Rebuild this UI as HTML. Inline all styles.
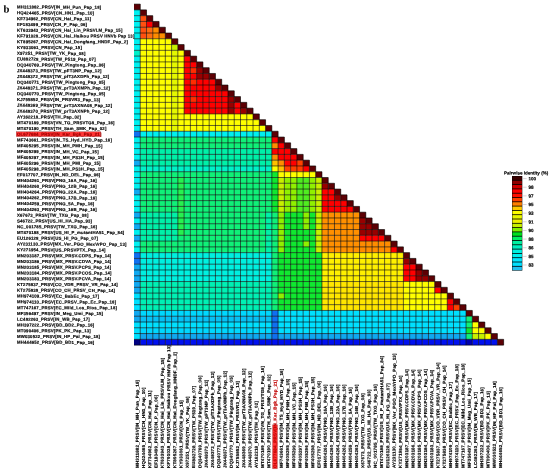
<!DOCTYPE html>
<html><head><meta charset="utf-8"><title>Pairwise identity</title>
<style>html,body{margin:0;padding:0;background:#fff;width:550px;height:471px;overflow:hidden;position:relative}</style>
</head><body>
<svg width="550" height="471" viewBox="0 0 550 471" style="position:absolute;left:0;top:0;filter:blur(0.55px)">
<rect x="134.000" y="4.100" width="6.315" height="5.830" fill="#5c0004"/>
<rect x="134.000" y="9.880" width="6.315" height="5.830" fill="#00f0f0"/>
<rect x="140.265" y="9.880" width="6.315" height="5.830" fill="#5c0004"/>
<rect x="134.000" y="15.660" width="6.315" height="5.830" fill="#00f0f0"/>
<rect x="140.265" y="15.660" width="6.315" height="5.830" fill="#ff5010"/>
<rect x="146.530" y="15.660" width="6.315" height="5.830" fill="#5c0004"/>
<rect x="134.000" y="21.440" width="6.315" height="5.830" fill="#00f0f0"/>
<rect x="140.265" y="21.440" width="6.315" height="5.830" fill="#ff5010"/>
<rect x="146.530" y="21.440" width="6.315" height="5.830" fill="#ff0000"/>
<rect x="152.795" y="21.440" width="6.315" height="5.830" fill="#5c0004"/>
<rect x="134.000" y="27.220" width="6.315" height="5.830" fill="#00f0f0"/>
<rect x="140.265" y="27.220" width="6.315" height="5.830" fill="#ff5010"/>
<rect x="146.530" y="27.220" width="6.315" height="5.830" fill="#ff6c10"/>
<rect x="152.795" y="27.220" width="6.315" height="5.830" fill="#ff8c00"/>
<rect x="159.060" y="27.220" width="6.315" height="5.830" fill="#5c0004"/>
<rect x="134.000" y="33.000" width="6.315" height="5.830" fill="#00f0f0"/>
<rect x="140.265" y="33.000" width="6.315" height="5.830" fill="#ff5010"/>
<rect x="146.530" y="33.000" width="6.315" height="5.830" fill="#ff6c10"/>
<rect x="152.795" y="33.000" width="6.315" height="5.830" fill="#ff8c00"/>
<rect x="159.060" y="33.000" width="6.315" height="5.830" fill="#ff8c00"/>
<rect x="165.325" y="33.000" width="6.315" height="5.830" fill="#5c0004"/>
<rect x="134.000" y="38.780" width="6.315" height="5.830" fill="#00f0f0"/>
<rect x="140.265" y="38.780" width="6.315" height="5.830" fill="#ffff00"/>
<rect x="146.530" y="38.780" width="6.315" height="5.830" fill="#ffff00"/>
<rect x="152.795" y="38.780" width="6.315" height="5.830" fill="#ffff00"/>
<rect x="159.060" y="38.780" width="6.315" height="5.830" fill="#ffff00"/>
<rect x="165.325" y="38.780" width="6.315" height="5.830" fill="#ffff00"/>
<rect x="171.590" y="38.780" width="6.315" height="5.830" fill="#5c0004"/>
<rect x="134.000" y="44.560" width="6.315" height="5.830" fill="#00f0f0"/>
<rect x="140.265" y="44.560" width="6.315" height="5.830" fill="#ffff00"/>
<rect x="146.530" y="44.560" width="6.315" height="5.830" fill="#ffff00"/>
<rect x="152.795" y="44.560" width="6.315" height="5.830" fill="#ffff00"/>
<rect x="159.060" y="44.560" width="6.315" height="5.830" fill="#ffff00"/>
<rect x="165.325" y="44.560" width="6.315" height="5.830" fill="#ffff00"/>
<rect x="171.590" y="44.560" width="6.315" height="5.830" fill="#c8f000"/>
<rect x="177.855" y="44.560" width="6.315" height="5.830" fill="#5c0004"/>
<rect x="134.000" y="50.340" width="6.315" height="5.830" fill="#00f0c8"/>
<rect x="140.265" y="50.340" width="6.315" height="5.830" fill="#ffff00"/>
<rect x="146.530" y="50.340" width="6.315" height="5.830" fill="#ffff00"/>
<rect x="152.795" y="50.340" width="6.315" height="5.830" fill="#ffff00"/>
<rect x="159.060" y="50.340" width="6.315" height="5.830" fill="#ffff00"/>
<rect x="165.325" y="50.340" width="6.315" height="5.830" fill="#ffff00"/>
<rect x="171.590" y="50.340" width="6.315" height="5.830" fill="#e4f800"/>
<rect x="177.855" y="50.340" width="6.315" height="5.830" fill="#ffff00"/>
<rect x="184.120" y="50.340" width="6.315" height="5.830" fill="#5c0004"/>
<rect x="134.000" y="56.120" width="6.315" height="5.830" fill="#00f0f0"/>
<rect x="140.265" y="56.120" width="6.315" height="5.830" fill="#ffff00"/>
<rect x="146.530" y="56.120" width="6.315" height="5.830" fill="#ffff00"/>
<rect x="152.795" y="56.120" width="6.315" height="5.830" fill="#ffff00"/>
<rect x="159.060" y="56.120" width="6.315" height="5.830" fill="#ffff00"/>
<rect x="165.325" y="56.120" width="6.315" height="5.830" fill="#ffff00"/>
<rect x="171.590" y="56.120" width="6.315" height="5.830" fill="#e4f800"/>
<rect x="177.855" y="56.120" width="6.315" height="5.830" fill="#ffff00"/>
<rect x="184.120" y="56.120" width="6.315" height="5.830" fill="#ff0000"/>
<rect x="190.385" y="56.120" width="6.315" height="5.830" fill="#5c0004"/>
<rect x="134.000" y="61.900" width="6.315" height="5.830" fill="#00f0f0"/>
<rect x="140.265" y="61.900" width="6.315" height="5.830" fill="#ffff00"/>
<rect x="146.530" y="61.900" width="6.315" height="5.830" fill="#ffff00"/>
<rect x="152.795" y="61.900" width="6.315" height="5.830" fill="#ffff00"/>
<rect x="159.060" y="61.900" width="6.315" height="5.830" fill="#ffff00"/>
<rect x="165.325" y="61.900" width="6.315" height="5.830" fill="#ffff00"/>
<rect x="171.590" y="61.900" width="6.315" height="5.830" fill="#e4f800"/>
<rect x="177.855" y="61.900" width="6.315" height="5.830" fill="#ffff00"/>
<rect x="184.120" y="61.900" width="6.315" height="5.830" fill="#ff0000"/>
<rect x="190.385" y="61.900" width="6.315" height="5.830" fill="#ff0000"/>
<rect x="196.650" y="61.900" width="6.315" height="5.830" fill="#5c0004"/>
<rect x="134.000" y="67.680" width="6.315" height="5.830" fill="#00f0f0"/>
<rect x="140.265" y="67.680" width="6.315" height="5.830" fill="#ffff00"/>
<rect x="146.530" y="67.680" width="6.315" height="5.830" fill="#ffff00"/>
<rect x="152.795" y="67.680" width="6.315" height="5.830" fill="#ffff00"/>
<rect x="159.060" y="67.680" width="6.315" height="5.830" fill="#ffff00"/>
<rect x="165.325" y="67.680" width="6.315" height="5.830" fill="#ffff00"/>
<rect x="171.590" y="67.680" width="6.315" height="5.830" fill="#e4f800"/>
<rect x="177.855" y="67.680" width="6.315" height="5.830" fill="#ffff00"/>
<rect x="184.120" y="67.680" width="6.315" height="5.830" fill="#ff0000"/>
<rect x="190.385" y="67.680" width="6.315" height="5.830" fill="#ff2c00"/>
<rect x="196.650" y="67.680" width="6.315" height="5.830" fill="#980000"/>
<rect x="202.915" y="67.680" width="6.315" height="5.830" fill="#5c0004"/>
<rect x="134.000" y="73.460" width="6.315" height="5.830" fill="#00f0f0"/>
<rect x="140.265" y="73.460" width="6.315" height="5.830" fill="#ffff00"/>
<rect x="146.530" y="73.460" width="6.315" height="5.830" fill="#ffff00"/>
<rect x="152.795" y="73.460" width="6.315" height="5.830" fill="#ffff00"/>
<rect x="159.060" y="73.460" width="6.315" height="5.830" fill="#ffff00"/>
<rect x="165.325" y="73.460" width="6.315" height="5.830" fill="#ffff00"/>
<rect x="171.590" y="73.460" width="6.315" height="5.830" fill="#e4f800"/>
<rect x="177.855" y="73.460" width="6.315" height="5.830" fill="#ffff00"/>
<rect x="184.120" y="73.460" width="6.315" height="5.830" fill="#ff0000"/>
<rect x="190.385" y="73.460" width="6.315" height="5.830" fill="#ff0000"/>
<rect x="196.650" y="73.460" width="6.315" height="5.830" fill="#980000"/>
<rect x="202.915" y="73.460" width="6.315" height="5.830" fill="#980000"/>
<rect x="209.180" y="73.460" width="6.315" height="5.830" fill="#5c0004"/>
<rect x="134.000" y="79.240" width="6.315" height="5.830" fill="#00f0f0"/>
<rect x="140.265" y="79.240" width="6.315" height="5.830" fill="#ffff00"/>
<rect x="146.530" y="79.240" width="6.315" height="5.830" fill="#ffff00"/>
<rect x="152.795" y="79.240" width="6.315" height="5.830" fill="#ffff00"/>
<rect x="159.060" y="79.240" width="6.315" height="5.830" fill="#ffff00"/>
<rect x="165.325" y="79.240" width="6.315" height="5.830" fill="#ffff00"/>
<rect x="171.590" y="79.240" width="6.315" height="5.830" fill="#e4f800"/>
<rect x="177.855" y="79.240" width="6.315" height="5.830" fill="#ffff00"/>
<rect x="184.120" y="79.240" width="6.315" height="5.830" fill="#ff0000"/>
<rect x="190.385" y="79.240" width="6.315" height="5.830" fill="#ff2c00"/>
<rect x="196.650" y="79.240" width="6.315" height="5.830" fill="#ff0000"/>
<rect x="202.915" y="79.240" width="6.315" height="5.830" fill="#ff0000"/>
<rect x="209.180" y="79.240" width="6.315" height="5.830" fill="#ff0000"/>
<rect x="215.445" y="79.240" width="6.315" height="5.830" fill="#5c0004"/>
<rect x="134.000" y="85.020" width="6.315" height="5.830" fill="#00f0f0"/>
<rect x="140.265" y="85.020" width="6.315" height="5.830" fill="#ffff00"/>
<rect x="146.530" y="85.020" width="6.315" height="5.830" fill="#ffff00"/>
<rect x="152.795" y="85.020" width="6.315" height="5.830" fill="#ffff00"/>
<rect x="159.060" y="85.020" width="6.315" height="5.830" fill="#ffff00"/>
<rect x="165.325" y="85.020" width="6.315" height="5.830" fill="#ffff00"/>
<rect x="171.590" y="85.020" width="6.315" height="5.830" fill="#e4f800"/>
<rect x="177.855" y="85.020" width="6.315" height="5.830" fill="#ffff00"/>
<rect x="184.120" y="85.020" width="6.315" height="5.830" fill="#ff0000"/>
<rect x="190.385" y="85.020" width="6.315" height="5.830" fill="#ff0000"/>
<rect x="196.650" y="85.020" width="6.315" height="5.830" fill="#ff0000"/>
<rect x="202.915" y="85.020" width="6.315" height="5.830" fill="#ff0000"/>
<rect x="209.180" y="85.020" width="6.315" height="5.830" fill="#ff0000"/>
<rect x="215.445" y="85.020" width="6.315" height="5.830" fill="#980000"/>
<rect x="221.710" y="85.020" width="6.315" height="5.830" fill="#5c0004"/>
<rect x="134.000" y="90.800" width="6.315" height="5.830" fill="#00f0f0"/>
<rect x="140.265" y="90.800" width="6.315" height="5.830" fill="#ffff00"/>
<rect x="146.530" y="90.800" width="6.315" height="5.830" fill="#ffff00"/>
<rect x="152.795" y="90.800" width="6.315" height="5.830" fill="#ffff00"/>
<rect x="159.060" y="90.800" width="6.315" height="5.830" fill="#ffff00"/>
<rect x="165.325" y="90.800" width="6.315" height="5.830" fill="#ffff00"/>
<rect x="171.590" y="90.800" width="6.315" height="5.830" fill="#e4f800"/>
<rect x="177.855" y="90.800" width="6.315" height="5.830" fill="#ffff00"/>
<rect x="184.120" y="90.800" width="6.315" height="5.830" fill="#ff0000"/>
<rect x="190.385" y="90.800" width="6.315" height="5.830" fill="#ff0000"/>
<rect x="196.650" y="90.800" width="6.315" height="5.830" fill="#ff0000"/>
<rect x="202.915" y="90.800" width="6.315" height="5.830" fill="#ff0000"/>
<rect x="209.180" y="90.800" width="6.315" height="5.830" fill="#ff0000"/>
<rect x="215.445" y="90.800" width="6.315" height="5.830" fill="#ff0000"/>
<rect x="221.710" y="90.800" width="6.315" height="5.830" fill="#ff0000"/>
<rect x="227.975" y="90.800" width="6.315" height="5.830" fill="#5c0004"/>
<rect x="134.000" y="96.580" width="6.315" height="5.830" fill="#00f0f0"/>
<rect x="140.265" y="96.580" width="6.315" height="5.830" fill="#ffff00"/>
<rect x="146.530" y="96.580" width="6.315" height="5.830" fill="#ffff00"/>
<rect x="152.795" y="96.580" width="6.315" height="5.830" fill="#ffff00"/>
<rect x="159.060" y="96.580" width="6.315" height="5.830" fill="#ffff00"/>
<rect x="165.325" y="96.580" width="6.315" height="5.830" fill="#ffff00"/>
<rect x="171.590" y="96.580" width="6.315" height="5.830" fill="#e4f800"/>
<rect x="177.855" y="96.580" width="6.315" height="5.830" fill="#ffff00"/>
<rect x="184.120" y="96.580" width="6.315" height="5.830" fill="#ff0000"/>
<rect x="190.385" y="96.580" width="6.315" height="5.830" fill="#ff2c00"/>
<rect x="196.650" y="96.580" width="6.315" height="5.830" fill="#ff0000"/>
<rect x="202.915" y="96.580" width="6.315" height="5.830" fill="#ff0000"/>
<rect x="209.180" y="96.580" width="6.315" height="5.830" fill="#ff0000"/>
<rect x="215.445" y="96.580" width="6.315" height="5.830" fill="#ff0000"/>
<rect x="221.710" y="96.580" width="6.315" height="5.830" fill="#ff0000"/>
<rect x="227.975" y="96.580" width="6.315" height="5.830" fill="#980000"/>
<rect x="234.240" y="96.580" width="6.315" height="5.830" fill="#5c0004"/>
<rect x="134.000" y="102.360" width="6.315" height="5.830" fill="#00f0f0"/>
<rect x="140.265" y="102.360" width="6.315" height="5.830" fill="#ffff00"/>
<rect x="146.530" y="102.360" width="6.315" height="5.830" fill="#ffff00"/>
<rect x="152.795" y="102.360" width="6.315" height="5.830" fill="#ffff00"/>
<rect x="159.060" y="102.360" width="6.315" height="5.830" fill="#ffff00"/>
<rect x="165.325" y="102.360" width="6.315" height="5.830" fill="#ffff00"/>
<rect x="171.590" y="102.360" width="6.315" height="5.830" fill="#e4f800"/>
<rect x="177.855" y="102.360" width="6.315" height="5.830" fill="#ffff00"/>
<rect x="184.120" y="102.360" width="6.315" height="5.830" fill="#ff0000"/>
<rect x="190.385" y="102.360" width="6.315" height="5.830" fill="#ff0000"/>
<rect x="196.650" y="102.360" width="6.315" height="5.830" fill="#ff0000"/>
<rect x="202.915" y="102.360" width="6.315" height="5.830" fill="#ff0000"/>
<rect x="209.180" y="102.360" width="6.315" height="5.830" fill="#ff0000"/>
<rect x="215.445" y="102.360" width="6.315" height="5.830" fill="#ff0000"/>
<rect x="221.710" y="102.360" width="6.315" height="5.830" fill="#ff0000"/>
<rect x="227.975" y="102.360" width="6.315" height="5.830" fill="#980000"/>
<rect x="234.240" y="102.360" width="6.315" height="5.830" fill="#ff0000"/>
<rect x="240.505" y="102.360" width="6.315" height="5.830" fill="#5c0004"/>
<rect x="134.000" y="108.140" width="6.315" height="5.830" fill="#00f0f0"/>
<rect x="140.265" y="108.140" width="6.315" height="5.830" fill="#ffff00"/>
<rect x="146.530" y="108.140" width="6.315" height="5.830" fill="#ffff00"/>
<rect x="152.795" y="108.140" width="6.315" height="5.830" fill="#ffff00"/>
<rect x="159.060" y="108.140" width="6.315" height="5.830" fill="#ffff00"/>
<rect x="165.325" y="108.140" width="6.315" height="5.830" fill="#ffff00"/>
<rect x="171.590" y="108.140" width="6.315" height="5.830" fill="#e4f800"/>
<rect x="177.855" y="108.140" width="6.315" height="5.830" fill="#ffff00"/>
<rect x="184.120" y="108.140" width="6.315" height="5.830" fill="#ff0000"/>
<rect x="190.385" y="108.140" width="6.315" height="5.830" fill="#ff0000"/>
<rect x="196.650" y="108.140" width="6.315" height="5.830" fill="#ff0000"/>
<rect x="202.915" y="108.140" width="6.315" height="5.830" fill="#ff0000"/>
<rect x="209.180" y="108.140" width="6.315" height="5.830" fill="#ff0000"/>
<rect x="215.445" y="108.140" width="6.315" height="5.830" fill="#ff0000"/>
<rect x="221.710" y="108.140" width="6.315" height="5.830" fill="#ff0000"/>
<rect x="227.975" y="108.140" width="6.315" height="5.830" fill="#980000"/>
<rect x="234.240" y="108.140" width="6.315" height="5.830" fill="#ff0000"/>
<rect x="240.505" y="108.140" width="6.315" height="5.830" fill="#980000"/>
<rect x="246.770" y="108.140" width="6.315" height="5.830" fill="#5c0004"/>
<rect x="134.000" y="113.920" width="6.315" height="5.830" fill="#00f0f0"/>
<rect x="140.265" y="113.920" width="6.315" height="5.830" fill="#ffff00"/>
<rect x="146.530" y="113.920" width="6.315" height="5.830" fill="#ffff00"/>
<rect x="152.795" y="113.920" width="6.315" height="5.830" fill="#ffff00"/>
<rect x="159.060" y="113.920" width="6.315" height="5.830" fill="#ffff00"/>
<rect x="165.325" y="113.920" width="6.315" height="5.830" fill="#ffff00"/>
<rect x="171.590" y="113.920" width="6.315" height="5.830" fill="#e4f800"/>
<rect x="177.855" y="113.920" width="6.315" height="5.830" fill="#ffff00"/>
<rect x="184.120" y="113.920" width="6.315" height="5.830" fill="#ffff00"/>
<rect x="190.385" y="113.920" width="6.315" height="5.830" fill="#ffff00"/>
<rect x="196.650" y="113.920" width="6.315" height="5.830" fill="#ffff00"/>
<rect x="202.915" y="113.920" width="6.315" height="5.830" fill="#ffff00"/>
<rect x="209.180" y="113.920" width="6.315" height="5.830" fill="#ffff00"/>
<rect x="215.445" y="113.920" width="6.315" height="5.830" fill="#ffff00"/>
<rect x="221.710" y="113.920" width="6.315" height="5.830" fill="#ffff00"/>
<rect x="227.975" y="113.920" width="6.315" height="5.830" fill="#ffff00"/>
<rect x="234.240" y="113.920" width="6.315" height="5.830" fill="#ffff00"/>
<rect x="240.505" y="113.920" width="6.315" height="5.830" fill="#ffff00"/>
<rect x="246.770" y="113.920" width="6.315" height="5.830" fill="#ffff00"/>
<rect x="253.035" y="113.920" width="6.315" height="5.830" fill="#5c0004"/>
<rect x="134.000" y="119.700" width="6.315" height="5.830" fill="#00f0f0"/>
<rect x="140.265" y="119.700" width="6.315" height="5.830" fill="#ffff00"/>
<rect x="146.530" y="119.700" width="6.315" height="5.830" fill="#ffff00"/>
<rect x="152.795" y="119.700" width="6.315" height="5.830" fill="#ffff00"/>
<rect x="159.060" y="119.700" width="6.315" height="5.830" fill="#ffff00"/>
<rect x="165.325" y="119.700" width="6.315" height="5.830" fill="#ffff00"/>
<rect x="171.590" y="119.700" width="6.315" height="5.830" fill="#e4f800"/>
<rect x="177.855" y="119.700" width="6.315" height="5.830" fill="#ffff00"/>
<rect x="184.120" y="119.700" width="6.315" height="5.830" fill="#ffff00"/>
<rect x="190.385" y="119.700" width="6.315" height="5.830" fill="#ffff00"/>
<rect x="196.650" y="119.700" width="6.315" height="5.830" fill="#ffff00"/>
<rect x="202.915" y="119.700" width="6.315" height="5.830" fill="#ffff00"/>
<rect x="209.180" y="119.700" width="6.315" height="5.830" fill="#ffff00"/>
<rect x="215.445" y="119.700" width="6.315" height="5.830" fill="#ffff00"/>
<rect x="221.710" y="119.700" width="6.315" height="5.830" fill="#ffff00"/>
<rect x="227.975" y="119.700" width="6.315" height="5.830" fill="#ffff00"/>
<rect x="234.240" y="119.700" width="6.315" height="5.830" fill="#ffff00"/>
<rect x="240.505" y="119.700" width="6.315" height="5.830" fill="#ffff00"/>
<rect x="246.770" y="119.700" width="6.315" height="5.830" fill="#ffff00"/>
<rect x="253.035" y="119.700" width="6.315" height="5.830" fill="#ffff00"/>
<rect x="259.300" y="119.700" width="6.315" height="5.830" fill="#5c0004"/>
<rect x="134.000" y="125.480" width="6.315" height="5.830" fill="#00f0f0"/>
<rect x="140.265" y="125.480" width="6.315" height="5.830" fill="#ffff00"/>
<rect x="146.530" y="125.480" width="6.315" height="5.830" fill="#ffff00"/>
<rect x="152.795" y="125.480" width="6.315" height="5.830" fill="#ffff00"/>
<rect x="159.060" y="125.480" width="6.315" height="5.830" fill="#ffff00"/>
<rect x="165.325" y="125.480" width="6.315" height="5.830" fill="#ffff00"/>
<rect x="171.590" y="125.480" width="6.315" height="5.830" fill="#e4f800"/>
<rect x="177.855" y="125.480" width="6.315" height="5.830" fill="#ffff00"/>
<rect x="184.120" y="125.480" width="6.315" height="5.830" fill="#ffff00"/>
<rect x="190.385" y="125.480" width="6.315" height="5.830" fill="#ffff00"/>
<rect x="196.650" y="125.480" width="6.315" height="5.830" fill="#ffff00"/>
<rect x="202.915" y="125.480" width="6.315" height="5.830" fill="#ffff00"/>
<rect x="209.180" y="125.480" width="6.315" height="5.830" fill="#ffff00"/>
<rect x="215.445" y="125.480" width="6.315" height="5.830" fill="#ffff00"/>
<rect x="221.710" y="125.480" width="6.315" height="5.830" fill="#ffff00"/>
<rect x="227.975" y="125.480" width="6.315" height="5.830" fill="#ffff00"/>
<rect x="234.240" y="125.480" width="6.315" height="5.830" fill="#ffff00"/>
<rect x="240.505" y="125.480" width="6.315" height="5.830" fill="#ffff00"/>
<rect x="246.770" y="125.480" width="6.315" height="5.830" fill="#ffff00"/>
<rect x="253.035" y="125.480" width="6.315" height="5.830" fill="#ffff00"/>
<rect x="259.300" y="125.480" width="6.315" height="5.830" fill="#ffff00"/>
<rect x="265.565" y="125.480" width="6.315" height="5.830" fill="#5c0004"/>
<rect x="134.000" y="131.260" width="6.315" height="5.830" fill="#1070f0"/>
<rect x="140.265" y="131.260" width="6.315" height="5.830" fill="#00f0f0"/>
<rect x="146.530" y="131.260" width="6.315" height="5.830" fill="#00f0f0"/>
<rect x="152.795" y="131.260" width="6.315" height="5.830" fill="#00f0f0"/>
<rect x="159.060" y="131.260" width="6.315" height="5.830" fill="#00f0f0"/>
<rect x="165.325" y="131.260" width="6.315" height="5.830" fill="#00f0f0"/>
<rect x="171.590" y="131.260" width="6.315" height="5.830" fill="#00f0f0"/>
<rect x="177.855" y="131.260" width="6.315" height="5.830" fill="#00f0f0"/>
<rect x="184.120" y="131.260" width="6.315" height="5.830" fill="#00f0f0"/>
<rect x="190.385" y="131.260" width="6.315" height="5.830" fill="#00f0f0"/>
<rect x="196.650" y="131.260" width="6.315" height="5.830" fill="#00f0f0"/>
<rect x="202.915" y="131.260" width="6.315" height="5.830" fill="#00f0f0"/>
<rect x="209.180" y="131.260" width="6.315" height="5.830" fill="#00f0f0"/>
<rect x="215.445" y="131.260" width="6.315" height="5.830" fill="#00f0f0"/>
<rect x="221.710" y="131.260" width="6.315" height="5.830" fill="#00f0f0"/>
<rect x="227.975" y="131.260" width="6.315" height="5.830" fill="#00f0f0"/>
<rect x="234.240" y="131.260" width="6.315" height="5.830" fill="#00f0f0"/>
<rect x="240.505" y="131.260" width="6.315" height="5.830" fill="#00f0f0"/>
<rect x="246.770" y="131.260" width="6.315" height="5.830" fill="#00f0f0"/>
<rect x="253.035" y="131.260" width="6.315" height="5.830" fill="#00f0f0"/>
<rect x="259.300" y="131.260" width="6.315" height="5.830" fill="#00f0f0"/>
<rect x="265.565" y="131.260" width="6.315" height="5.830" fill="#00f0f0"/>
<rect x="271.830" y="131.260" width="6.315" height="5.830" fill="#5c0004"/>
<rect x="134.000" y="137.040" width="6.315" height="5.830" fill="#00f0f0"/>
<rect x="140.265" y="137.040" width="6.315" height="5.830" fill="#10f078"/>
<rect x="146.530" y="137.040" width="6.315" height="5.830" fill="#10f078"/>
<rect x="152.795" y="137.040" width="6.315" height="5.830" fill="#10f078"/>
<rect x="159.060" y="137.040" width="6.315" height="5.830" fill="#10f078"/>
<rect x="165.325" y="137.040" width="6.315" height="5.830" fill="#10f078"/>
<rect x="171.590" y="137.040" width="6.315" height="5.830" fill="#10f078"/>
<rect x="177.855" y="137.040" width="6.315" height="5.830" fill="#10f078"/>
<rect x="184.120" y="137.040" width="6.315" height="5.830" fill="#10f078"/>
<rect x="190.385" y="137.040" width="6.315" height="5.830" fill="#10f078"/>
<rect x="196.650" y="137.040" width="6.315" height="5.830" fill="#10f078"/>
<rect x="202.915" y="137.040" width="6.315" height="5.830" fill="#10f078"/>
<rect x="209.180" y="137.040" width="6.315" height="5.830" fill="#10f078"/>
<rect x="215.445" y="137.040" width="6.315" height="5.830" fill="#10f078"/>
<rect x="221.710" y="137.040" width="6.315" height="5.830" fill="#10f078"/>
<rect x="227.975" y="137.040" width="6.315" height="5.830" fill="#10f078"/>
<rect x="234.240" y="137.040" width="6.315" height="5.830" fill="#10f078"/>
<rect x="240.505" y="137.040" width="6.315" height="5.830" fill="#10f078"/>
<rect x="246.770" y="137.040" width="6.315" height="5.830" fill="#10f078"/>
<rect x="253.035" y="137.040" width="6.315" height="5.830" fill="#10f078"/>
<rect x="259.300" y="137.040" width="6.315" height="5.830" fill="#10f078"/>
<rect x="265.565" y="137.040" width="6.315" height="5.830" fill="#10f078"/>
<rect x="271.830" y="137.040" width="6.315" height="5.830" fill="#ff0000"/>
<rect x="278.095" y="137.040" width="6.315" height="5.830" fill="#5c0004"/>
<rect x="134.000" y="142.820" width="6.315" height="5.830" fill="#00f0f0"/>
<rect x="140.265" y="142.820" width="6.315" height="5.830" fill="#10f078"/>
<rect x="146.530" y="142.820" width="6.315" height="5.830" fill="#10f078"/>
<rect x="152.795" y="142.820" width="6.315" height="5.830" fill="#10f078"/>
<rect x="159.060" y="142.820" width="6.315" height="5.830" fill="#10f078"/>
<rect x="165.325" y="142.820" width="6.315" height="5.830" fill="#10f078"/>
<rect x="171.590" y="142.820" width="6.315" height="5.830" fill="#10f078"/>
<rect x="177.855" y="142.820" width="6.315" height="5.830" fill="#10f078"/>
<rect x="184.120" y="142.820" width="6.315" height="5.830" fill="#10f078"/>
<rect x="190.385" y="142.820" width="6.315" height="5.830" fill="#10f078"/>
<rect x="196.650" y="142.820" width="6.315" height="5.830" fill="#10f078"/>
<rect x="202.915" y="142.820" width="6.315" height="5.830" fill="#10f078"/>
<rect x="209.180" y="142.820" width="6.315" height="5.830" fill="#10f078"/>
<rect x="215.445" y="142.820" width="6.315" height="5.830" fill="#10f078"/>
<rect x="221.710" y="142.820" width="6.315" height="5.830" fill="#10f078"/>
<rect x="227.975" y="142.820" width="6.315" height="5.830" fill="#10f078"/>
<rect x="234.240" y="142.820" width="6.315" height="5.830" fill="#10f078"/>
<rect x="240.505" y="142.820" width="6.315" height="5.830" fill="#10f078"/>
<rect x="246.770" y="142.820" width="6.315" height="5.830" fill="#10f078"/>
<rect x="253.035" y="142.820" width="6.315" height="5.830" fill="#10f078"/>
<rect x="259.300" y="142.820" width="6.315" height="5.830" fill="#10f078"/>
<rect x="265.565" y="142.820" width="6.315" height="5.830" fill="#10f078"/>
<rect x="271.830" y="142.820" width="6.315" height="5.830" fill="#ff8c00"/>
<rect x="278.095" y="142.820" width="6.315" height="5.830" fill="#ff0000"/>
<rect x="284.360" y="142.820" width="6.315" height="5.830" fill="#5c0004"/>
<rect x="134.000" y="148.600" width="6.315" height="5.830" fill="#00f0f0"/>
<rect x="140.265" y="148.600" width="6.315" height="5.830" fill="#00f0a8"/>
<rect x="146.530" y="148.600" width="6.315" height="5.830" fill="#00f0a8"/>
<rect x="152.795" y="148.600" width="6.315" height="5.830" fill="#00f0a8"/>
<rect x="159.060" y="148.600" width="6.315" height="5.830" fill="#00f0a8"/>
<rect x="165.325" y="148.600" width="6.315" height="5.830" fill="#00f0a8"/>
<rect x="171.590" y="148.600" width="6.315" height="5.830" fill="#00f0a8"/>
<rect x="177.855" y="148.600" width="6.315" height="5.830" fill="#00f0a8"/>
<rect x="184.120" y="148.600" width="6.315" height="5.830" fill="#00f0a8"/>
<rect x="190.385" y="148.600" width="6.315" height="5.830" fill="#00f0a8"/>
<rect x="196.650" y="148.600" width="6.315" height="5.830" fill="#00f0a8"/>
<rect x="202.915" y="148.600" width="6.315" height="5.830" fill="#00f0a8"/>
<rect x="209.180" y="148.600" width="6.315" height="5.830" fill="#00f0a8"/>
<rect x="215.445" y="148.600" width="6.315" height="5.830" fill="#00f0a8"/>
<rect x="221.710" y="148.600" width="6.315" height="5.830" fill="#00f0a8"/>
<rect x="227.975" y="148.600" width="6.315" height="5.830" fill="#00f0a8"/>
<rect x="234.240" y="148.600" width="6.315" height="5.830" fill="#00f0a8"/>
<rect x="240.505" y="148.600" width="6.315" height="5.830" fill="#00f0a8"/>
<rect x="246.770" y="148.600" width="6.315" height="5.830" fill="#00f0a8"/>
<rect x="253.035" y="148.600" width="6.315" height="5.830" fill="#00f0a8"/>
<rect x="259.300" y="148.600" width="6.315" height="5.830" fill="#00f0a8"/>
<rect x="265.565" y="148.600" width="6.315" height="5.830" fill="#00f0a8"/>
<rect x="271.830" y="148.600" width="6.315" height="5.830" fill="#ff0000"/>
<rect x="278.095" y="148.600" width="6.315" height="5.830" fill="#ff0000"/>
<rect x="284.360" y="148.600" width="6.315" height="5.830" fill="#ff0000"/>
<rect x="290.625" y="148.600" width="6.315" height="5.830" fill="#5c0004"/>
<rect x="134.000" y="154.380" width="6.315" height="5.830" fill="#00f0f0"/>
<rect x="140.265" y="154.380" width="6.315" height="5.830" fill="#00f0a8"/>
<rect x="146.530" y="154.380" width="6.315" height="5.830" fill="#00f0a8"/>
<rect x="152.795" y="154.380" width="6.315" height="5.830" fill="#00f0a8"/>
<rect x="159.060" y="154.380" width="6.315" height="5.830" fill="#00f0a8"/>
<rect x="165.325" y="154.380" width="6.315" height="5.830" fill="#00f0a8"/>
<rect x="171.590" y="154.380" width="6.315" height="5.830" fill="#00f0a8"/>
<rect x="177.855" y="154.380" width="6.315" height="5.830" fill="#00f0a8"/>
<rect x="184.120" y="154.380" width="6.315" height="5.830" fill="#00f0a8"/>
<rect x="190.385" y="154.380" width="6.315" height="5.830" fill="#00f0a8"/>
<rect x="196.650" y="154.380" width="6.315" height="5.830" fill="#00f0a8"/>
<rect x="202.915" y="154.380" width="6.315" height="5.830" fill="#00f0a8"/>
<rect x="209.180" y="154.380" width="6.315" height="5.830" fill="#00f0a8"/>
<rect x="215.445" y="154.380" width="6.315" height="5.830" fill="#00f0a8"/>
<rect x="221.710" y="154.380" width="6.315" height="5.830" fill="#00f0a8"/>
<rect x="227.975" y="154.380" width="6.315" height="5.830" fill="#00f0a8"/>
<rect x="234.240" y="154.380" width="6.315" height="5.830" fill="#00f0a8"/>
<rect x="240.505" y="154.380" width="6.315" height="5.830" fill="#00f0a8"/>
<rect x="246.770" y="154.380" width="6.315" height="5.830" fill="#00f0a8"/>
<rect x="253.035" y="154.380" width="6.315" height="5.830" fill="#00f0a8"/>
<rect x="259.300" y="154.380" width="6.315" height="5.830" fill="#00f0a8"/>
<rect x="265.565" y="154.380" width="6.315" height="5.830" fill="#00f0a8"/>
<rect x="271.830" y="154.380" width="6.315" height="5.830" fill="#ff8c00"/>
<rect x="278.095" y="154.380" width="6.315" height="5.830" fill="#ff0000"/>
<rect x="284.360" y="154.380" width="6.315" height="5.830" fill="#ff0000"/>
<rect x="290.625" y="154.380" width="6.315" height="5.830" fill="#ff0000"/>
<rect x="296.890" y="154.380" width="6.315" height="5.830" fill="#5c0004"/>
<rect x="134.000" y="160.160" width="6.315" height="5.830" fill="#10a8f0"/>
<rect x="140.265" y="160.160" width="6.315" height="5.830" fill="#00f0a8"/>
<rect x="146.530" y="160.160" width="6.315" height="5.830" fill="#00f0a8"/>
<rect x="152.795" y="160.160" width="6.315" height="5.830" fill="#00f0a8"/>
<rect x="159.060" y="160.160" width="6.315" height="5.830" fill="#00f0a8"/>
<rect x="165.325" y="160.160" width="6.315" height="5.830" fill="#00f0a8"/>
<rect x="171.590" y="160.160" width="6.315" height="5.830" fill="#00f0a8"/>
<rect x="177.855" y="160.160" width="6.315" height="5.830" fill="#00f0a8"/>
<rect x="184.120" y="160.160" width="6.315" height="5.830" fill="#00f0a8"/>
<rect x="190.385" y="160.160" width="6.315" height="5.830" fill="#00f0a8"/>
<rect x="196.650" y="160.160" width="6.315" height="5.830" fill="#00f0a8"/>
<rect x="202.915" y="160.160" width="6.315" height="5.830" fill="#00f0a8"/>
<rect x="209.180" y="160.160" width="6.315" height="5.830" fill="#00f0a8"/>
<rect x="215.445" y="160.160" width="6.315" height="5.830" fill="#00f0a8"/>
<rect x="221.710" y="160.160" width="6.315" height="5.830" fill="#00f0a8"/>
<rect x="227.975" y="160.160" width="6.315" height="5.830" fill="#00f0a8"/>
<rect x="234.240" y="160.160" width="6.315" height="5.830" fill="#00f0a8"/>
<rect x="240.505" y="160.160" width="6.315" height="5.830" fill="#00f0a8"/>
<rect x="246.770" y="160.160" width="6.315" height="5.830" fill="#00f0a8"/>
<rect x="253.035" y="160.160" width="6.315" height="5.830" fill="#00f0a8"/>
<rect x="259.300" y="160.160" width="6.315" height="5.830" fill="#00f0a8"/>
<rect x="265.565" y="160.160" width="6.315" height="5.830" fill="#00f0a8"/>
<rect x="271.830" y="160.160" width="6.315" height="5.830" fill="#ffc000"/>
<rect x="278.095" y="160.160" width="6.315" height="5.830" fill="#ff8c00"/>
<rect x="284.360" y="160.160" width="6.315" height="5.830" fill="#ff0000"/>
<rect x="290.625" y="160.160" width="6.315" height="5.830" fill="#ff0000"/>
<rect x="296.890" y="160.160" width="6.315" height="5.830" fill="#ff4000"/>
<rect x="303.155" y="160.160" width="6.315" height="5.830" fill="#5c0004"/>
<rect x="134.000" y="165.940" width="6.315" height="5.830" fill="#00f0f0"/>
<rect x="140.265" y="165.940" width="6.315" height="5.830" fill="#00f0c8"/>
<rect x="146.530" y="165.940" width="6.315" height="5.830" fill="#00f0c8"/>
<rect x="152.795" y="165.940" width="6.315" height="5.830" fill="#00f0c8"/>
<rect x="159.060" y="165.940" width="6.315" height="5.830" fill="#00f0c8"/>
<rect x="165.325" y="165.940" width="6.315" height="5.830" fill="#00f0c8"/>
<rect x="171.590" y="165.940" width="6.315" height="5.830" fill="#00f0c8"/>
<rect x="177.855" y="165.940" width="6.315" height="5.830" fill="#00f0c8"/>
<rect x="184.120" y="165.940" width="6.315" height="5.830" fill="#00f0c8"/>
<rect x="190.385" y="165.940" width="6.315" height="5.830" fill="#00f0c8"/>
<rect x="196.650" y="165.940" width="6.315" height="5.830" fill="#00f0c8"/>
<rect x="202.915" y="165.940" width="6.315" height="5.830" fill="#00f0c8"/>
<rect x="209.180" y="165.940" width="6.315" height="5.830" fill="#00f0c8"/>
<rect x="215.445" y="165.940" width="6.315" height="5.830" fill="#00f0c8"/>
<rect x="221.710" y="165.940" width="6.315" height="5.830" fill="#00f0c8"/>
<rect x="227.975" y="165.940" width="6.315" height="5.830" fill="#00f0c8"/>
<rect x="234.240" y="165.940" width="6.315" height="5.830" fill="#00f0c8"/>
<rect x="240.505" y="165.940" width="6.315" height="5.830" fill="#00f0c8"/>
<rect x="246.770" y="165.940" width="6.315" height="5.830" fill="#00f0c8"/>
<rect x="253.035" y="165.940" width="6.315" height="5.830" fill="#00f0c8"/>
<rect x="259.300" y="165.940" width="6.315" height="5.830" fill="#00f0c8"/>
<rect x="265.565" y="165.940" width="6.315" height="5.830" fill="#00f0c8"/>
<rect x="271.830" y="165.940" width="6.315" height="5.830" fill="#ffff00"/>
<rect x="278.095" y="165.940" width="6.315" height="5.830" fill="#ffc000"/>
<rect x="284.360" y="165.940" width="6.315" height="5.830" fill="#ff4000"/>
<rect x="290.625" y="165.940" width="6.315" height="5.830" fill="#ff4000"/>
<rect x="296.890" y="165.940" width="6.315" height="5.830" fill="#ff4000"/>
<rect x="303.155" y="165.940" width="6.315" height="5.830" fill="#ff0000"/>
<rect x="309.420" y="165.940" width="6.315" height="5.830" fill="#5c0004"/>
<rect x="134.000" y="171.720" width="6.315" height="5.830" fill="#00f0f0"/>
<rect x="140.265" y="171.720" width="6.315" height="5.830" fill="#10f078"/>
<rect x="146.530" y="171.720" width="6.315" height="5.830" fill="#10f078"/>
<rect x="152.795" y="171.720" width="6.315" height="5.830" fill="#10f078"/>
<rect x="159.060" y="171.720" width="6.315" height="5.830" fill="#10f078"/>
<rect x="165.325" y="171.720" width="6.315" height="5.830" fill="#10f078"/>
<rect x="171.590" y="171.720" width="6.315" height="5.830" fill="#10f078"/>
<rect x="177.855" y="171.720" width="6.315" height="5.830" fill="#10f078"/>
<rect x="184.120" y="171.720" width="6.315" height="5.830" fill="#10f078"/>
<rect x="190.385" y="171.720" width="6.315" height="5.830" fill="#10f078"/>
<rect x="196.650" y="171.720" width="6.315" height="5.830" fill="#10f078"/>
<rect x="202.915" y="171.720" width="6.315" height="5.830" fill="#10f078"/>
<rect x="209.180" y="171.720" width="6.315" height="5.830" fill="#10f078"/>
<rect x="215.445" y="171.720" width="6.315" height="5.830" fill="#10f078"/>
<rect x="221.710" y="171.720" width="6.315" height="5.830" fill="#10f078"/>
<rect x="227.975" y="171.720" width="6.315" height="5.830" fill="#10f078"/>
<rect x="234.240" y="171.720" width="6.315" height="5.830" fill="#10f078"/>
<rect x="240.505" y="171.720" width="6.315" height="5.830" fill="#10f078"/>
<rect x="246.770" y="171.720" width="6.315" height="5.830" fill="#10f078"/>
<rect x="253.035" y="171.720" width="6.315" height="5.830" fill="#10f078"/>
<rect x="259.300" y="171.720" width="6.315" height="5.830" fill="#10f078"/>
<rect x="265.565" y="171.720" width="6.315" height="5.830" fill="#10f078"/>
<rect x="271.830" y="171.720" width="6.315" height="5.830" fill="#10e830"/>
<rect x="278.095" y="171.720" width="6.315" height="5.830" fill="#ffff00"/>
<rect x="284.360" y="171.720" width="6.315" height="5.830" fill="#ffff00"/>
<rect x="290.625" y="171.720" width="6.315" height="5.830" fill="#ffff00"/>
<rect x="296.890" y="171.720" width="6.315" height="5.830" fill="#ffff00"/>
<rect x="303.155" y="171.720" width="6.315" height="5.830" fill="#ffff00"/>
<rect x="309.420" y="171.720" width="6.315" height="5.830" fill="#ffff00"/>
<rect x="315.685" y="171.720" width="6.315" height="5.830" fill="#5c0004"/>
<rect x="134.000" y="177.500" width="6.315" height="5.830" fill="#00f0f0"/>
<rect x="140.265" y="177.500" width="6.315" height="5.830" fill="#10f078"/>
<rect x="146.530" y="177.500" width="6.315" height="5.830" fill="#10f078"/>
<rect x="152.795" y="177.500" width="6.315" height="5.830" fill="#10f078"/>
<rect x="159.060" y="177.500" width="6.315" height="5.830" fill="#10f078"/>
<rect x="165.325" y="177.500" width="6.315" height="5.830" fill="#10f078"/>
<rect x="171.590" y="177.500" width="6.315" height="5.830" fill="#10f078"/>
<rect x="177.855" y="177.500" width="6.315" height="5.830" fill="#28f050"/>
<rect x="184.120" y="177.500" width="6.315" height="5.830" fill="#10f078"/>
<rect x="190.385" y="177.500" width="6.315" height="5.830" fill="#10f078"/>
<rect x="196.650" y="177.500" width="6.315" height="5.830" fill="#10f078"/>
<rect x="202.915" y="177.500" width="6.315" height="5.830" fill="#10f078"/>
<rect x="209.180" y="177.500" width="6.315" height="5.830" fill="#10f078"/>
<rect x="215.445" y="177.500" width="6.315" height="5.830" fill="#10f078"/>
<rect x="221.710" y="177.500" width="6.315" height="5.830" fill="#10f078"/>
<rect x="227.975" y="177.500" width="6.315" height="5.830" fill="#10f078"/>
<rect x="234.240" y="177.500" width="6.315" height="5.830" fill="#10f078"/>
<rect x="240.505" y="177.500" width="6.315" height="5.830" fill="#10f078"/>
<rect x="246.770" y="177.500" width="6.315" height="5.830" fill="#10f078"/>
<rect x="253.035" y="177.500" width="6.315" height="5.830" fill="#10f078"/>
<rect x="259.300" y="177.500" width="6.315" height="5.830" fill="#10f078"/>
<rect x="265.565" y="177.500" width="6.315" height="5.830" fill="#10f078"/>
<rect x="271.830" y="177.500" width="6.315" height="5.830" fill="#10e830"/>
<rect x="278.095" y="177.500" width="6.315" height="5.830" fill="#c8f000"/>
<rect x="284.360" y="177.500" width="6.315" height="5.830" fill="#90f000"/>
<rect x="290.625" y="177.500" width="6.315" height="5.830" fill="#90f000"/>
<rect x="296.890" y="177.500" width="6.315" height="5.830" fill="#50ec20"/>
<rect x="303.155" y="177.500" width="6.315" height="5.830" fill="#50ec20"/>
<rect x="309.420" y="177.500" width="6.315" height="5.830" fill="#90f000"/>
<rect x="315.685" y="177.500" width="6.315" height="5.830" fill="#c8f000"/>
<rect x="321.950" y="177.500" width="6.315" height="5.830" fill="#5c0004"/>
<rect x="134.000" y="183.280" width="6.315" height="5.830" fill="#00f0f0"/>
<rect x="140.265" y="183.280" width="6.315" height="5.830" fill="#10f078"/>
<rect x="146.530" y="183.280" width="6.315" height="5.830" fill="#10f078"/>
<rect x="152.795" y="183.280" width="6.315" height="5.830" fill="#10f078"/>
<rect x="159.060" y="183.280" width="6.315" height="5.830" fill="#10f078"/>
<rect x="165.325" y="183.280" width="6.315" height="5.830" fill="#10f078"/>
<rect x="171.590" y="183.280" width="6.315" height="5.830" fill="#10f078"/>
<rect x="177.855" y="183.280" width="6.315" height="5.830" fill="#28f050"/>
<rect x="184.120" y="183.280" width="6.315" height="5.830" fill="#10f078"/>
<rect x="190.385" y="183.280" width="6.315" height="5.830" fill="#10f078"/>
<rect x="196.650" y="183.280" width="6.315" height="5.830" fill="#10f078"/>
<rect x="202.915" y="183.280" width="6.315" height="5.830" fill="#10f078"/>
<rect x="209.180" y="183.280" width="6.315" height="5.830" fill="#10f078"/>
<rect x="215.445" y="183.280" width="6.315" height="5.830" fill="#10f078"/>
<rect x="221.710" y="183.280" width="6.315" height="5.830" fill="#10f078"/>
<rect x="227.975" y="183.280" width="6.315" height="5.830" fill="#10f078"/>
<rect x="234.240" y="183.280" width="6.315" height="5.830" fill="#10f078"/>
<rect x="240.505" y="183.280" width="6.315" height="5.830" fill="#10f078"/>
<rect x="246.770" y="183.280" width="6.315" height="5.830" fill="#10f078"/>
<rect x="253.035" y="183.280" width="6.315" height="5.830" fill="#10f078"/>
<rect x="259.300" y="183.280" width="6.315" height="5.830" fill="#10f078"/>
<rect x="265.565" y="183.280" width="6.315" height="5.830" fill="#10f078"/>
<rect x="271.830" y="183.280" width="6.315" height="5.830" fill="#10e830"/>
<rect x="278.095" y="183.280" width="6.315" height="5.830" fill="#c8f000"/>
<rect x="284.360" y="183.280" width="6.315" height="5.830" fill="#90f000"/>
<rect x="290.625" y="183.280" width="6.315" height="5.830" fill="#90f000"/>
<rect x="296.890" y="183.280" width="6.315" height="5.830" fill="#50ec20"/>
<rect x="303.155" y="183.280" width="6.315" height="5.830" fill="#50ec20"/>
<rect x="309.420" y="183.280" width="6.315" height="5.830" fill="#90f000"/>
<rect x="315.685" y="183.280" width="6.315" height="5.830" fill="#c8f000"/>
<rect x="321.950" y="183.280" width="6.315" height="5.830" fill="#980000"/>
<rect x="328.215" y="183.280" width="6.315" height="5.830" fill="#5c0004"/>
<rect x="134.000" y="189.060" width="6.315" height="5.830" fill="#10a8f0"/>
<rect x="140.265" y="189.060" width="6.315" height="5.830" fill="#10f078"/>
<rect x="146.530" y="189.060" width="6.315" height="5.830" fill="#10f078"/>
<rect x="152.795" y="189.060" width="6.315" height="5.830" fill="#10f078"/>
<rect x="159.060" y="189.060" width="6.315" height="5.830" fill="#10f078"/>
<rect x="165.325" y="189.060" width="6.315" height="5.830" fill="#10f078"/>
<rect x="171.590" y="189.060" width="6.315" height="5.830" fill="#10f078"/>
<rect x="177.855" y="189.060" width="6.315" height="5.830" fill="#28f050"/>
<rect x="184.120" y="189.060" width="6.315" height="5.830" fill="#10f078"/>
<rect x="190.385" y="189.060" width="6.315" height="5.830" fill="#10f078"/>
<rect x="196.650" y="189.060" width="6.315" height="5.830" fill="#10f078"/>
<rect x="202.915" y="189.060" width="6.315" height="5.830" fill="#10f078"/>
<rect x="209.180" y="189.060" width="6.315" height="5.830" fill="#10f078"/>
<rect x="215.445" y="189.060" width="6.315" height="5.830" fill="#10f078"/>
<rect x="221.710" y="189.060" width="6.315" height="5.830" fill="#10f078"/>
<rect x="227.975" y="189.060" width="6.315" height="5.830" fill="#10f078"/>
<rect x="234.240" y="189.060" width="6.315" height="5.830" fill="#10f078"/>
<rect x="240.505" y="189.060" width="6.315" height="5.830" fill="#10f078"/>
<rect x="246.770" y="189.060" width="6.315" height="5.830" fill="#10f078"/>
<rect x="253.035" y="189.060" width="6.315" height="5.830" fill="#10f078"/>
<rect x="259.300" y="189.060" width="6.315" height="5.830" fill="#10f078"/>
<rect x="265.565" y="189.060" width="6.315" height="5.830" fill="#10f078"/>
<rect x="271.830" y="189.060" width="6.315" height="5.830" fill="#10e830"/>
<rect x="278.095" y="189.060" width="6.315" height="5.830" fill="#c8f000"/>
<rect x="284.360" y="189.060" width="6.315" height="5.830" fill="#90f000"/>
<rect x="290.625" y="189.060" width="6.315" height="5.830" fill="#90f000"/>
<rect x="296.890" y="189.060" width="6.315" height="5.830" fill="#50ec20"/>
<rect x="303.155" y="189.060" width="6.315" height="5.830" fill="#50ec20"/>
<rect x="309.420" y="189.060" width="6.315" height="5.830" fill="#90f000"/>
<rect x="315.685" y="189.060" width="6.315" height="5.830" fill="#c8f000"/>
<rect x="321.950" y="189.060" width="6.315" height="5.830" fill="#ff0000"/>
<rect x="328.215" y="189.060" width="6.315" height="5.830" fill="#ff0000"/>
<rect x="334.480" y="189.060" width="6.315" height="5.830" fill="#5c0004"/>
<rect x="134.000" y="194.840" width="6.315" height="5.830" fill="#00f0f0"/>
<rect x="140.265" y="194.840" width="6.315" height="5.830" fill="#10f078"/>
<rect x="146.530" y="194.840" width="6.315" height="5.830" fill="#10f078"/>
<rect x="152.795" y="194.840" width="6.315" height="5.830" fill="#10f078"/>
<rect x="159.060" y="194.840" width="6.315" height="5.830" fill="#10f078"/>
<rect x="165.325" y="194.840" width="6.315" height="5.830" fill="#10f078"/>
<rect x="171.590" y="194.840" width="6.315" height="5.830" fill="#10f078"/>
<rect x="177.855" y="194.840" width="6.315" height="5.830" fill="#28f050"/>
<rect x="184.120" y="194.840" width="6.315" height="5.830" fill="#10f078"/>
<rect x="190.385" y="194.840" width="6.315" height="5.830" fill="#10f078"/>
<rect x="196.650" y="194.840" width="6.315" height="5.830" fill="#10f078"/>
<rect x="202.915" y="194.840" width="6.315" height="5.830" fill="#10f078"/>
<rect x="209.180" y="194.840" width="6.315" height="5.830" fill="#10f078"/>
<rect x="215.445" y="194.840" width="6.315" height="5.830" fill="#10f078"/>
<rect x="221.710" y="194.840" width="6.315" height="5.830" fill="#10f078"/>
<rect x="227.975" y="194.840" width="6.315" height="5.830" fill="#10f078"/>
<rect x="234.240" y="194.840" width="6.315" height="5.830" fill="#10f078"/>
<rect x="240.505" y="194.840" width="6.315" height="5.830" fill="#10f078"/>
<rect x="246.770" y="194.840" width="6.315" height="5.830" fill="#10f078"/>
<rect x="253.035" y="194.840" width="6.315" height="5.830" fill="#10f078"/>
<rect x="259.300" y="194.840" width="6.315" height="5.830" fill="#10f078"/>
<rect x="265.565" y="194.840" width="6.315" height="5.830" fill="#10f078"/>
<rect x="271.830" y="194.840" width="6.315" height="5.830" fill="#10e830"/>
<rect x="278.095" y="194.840" width="6.315" height="5.830" fill="#c8f000"/>
<rect x="284.360" y="194.840" width="6.315" height="5.830" fill="#90f000"/>
<rect x="290.625" y="194.840" width="6.315" height="5.830" fill="#90f000"/>
<rect x="296.890" y="194.840" width="6.315" height="5.830" fill="#50ec20"/>
<rect x="303.155" y="194.840" width="6.315" height="5.830" fill="#50ec20"/>
<rect x="309.420" y="194.840" width="6.315" height="5.830" fill="#90f000"/>
<rect x="315.685" y="194.840" width="6.315" height="5.830" fill="#c8f000"/>
<rect x="321.950" y="194.840" width="6.315" height="5.830" fill="#ff0000"/>
<rect x="328.215" y="194.840" width="6.315" height="5.830" fill="#ff0000"/>
<rect x="334.480" y="194.840" width="6.315" height="5.830" fill="#980000"/>
<rect x="340.745" y="194.840" width="6.315" height="5.830" fill="#5c0004"/>
<rect x="134.000" y="200.620" width="6.315" height="5.830" fill="#00f0f0"/>
<rect x="140.265" y="200.620" width="6.315" height="5.830" fill="#10f078"/>
<rect x="146.530" y="200.620" width="6.315" height="5.830" fill="#10f078"/>
<rect x="152.795" y="200.620" width="6.315" height="5.830" fill="#10f078"/>
<rect x="159.060" y="200.620" width="6.315" height="5.830" fill="#10f078"/>
<rect x="165.325" y="200.620" width="6.315" height="5.830" fill="#10f078"/>
<rect x="171.590" y="200.620" width="6.315" height="5.830" fill="#10f078"/>
<rect x="177.855" y="200.620" width="6.315" height="5.830" fill="#28f050"/>
<rect x="184.120" y="200.620" width="6.315" height="5.830" fill="#10f078"/>
<rect x="190.385" y="200.620" width="6.315" height="5.830" fill="#10f078"/>
<rect x="196.650" y="200.620" width="6.315" height="5.830" fill="#10f078"/>
<rect x="202.915" y="200.620" width="6.315" height="5.830" fill="#10f078"/>
<rect x="209.180" y="200.620" width="6.315" height="5.830" fill="#10f078"/>
<rect x="215.445" y="200.620" width="6.315" height="5.830" fill="#10f078"/>
<rect x="221.710" y="200.620" width="6.315" height="5.830" fill="#10f078"/>
<rect x="227.975" y="200.620" width="6.315" height="5.830" fill="#10f078"/>
<rect x="234.240" y="200.620" width="6.315" height="5.830" fill="#10f078"/>
<rect x="240.505" y="200.620" width="6.315" height="5.830" fill="#10f078"/>
<rect x="246.770" y="200.620" width="6.315" height="5.830" fill="#10f078"/>
<rect x="253.035" y="200.620" width="6.315" height="5.830" fill="#10f078"/>
<rect x="259.300" y="200.620" width="6.315" height="5.830" fill="#10f078"/>
<rect x="265.565" y="200.620" width="6.315" height="5.830" fill="#10f078"/>
<rect x="271.830" y="200.620" width="6.315" height="5.830" fill="#10e830"/>
<rect x="278.095" y="200.620" width="6.315" height="5.830" fill="#c8f000"/>
<rect x="284.360" y="200.620" width="6.315" height="5.830" fill="#90f000"/>
<rect x="290.625" y="200.620" width="6.315" height="5.830" fill="#90f000"/>
<rect x="296.890" y="200.620" width="6.315" height="5.830" fill="#50ec20"/>
<rect x="303.155" y="200.620" width="6.315" height="5.830" fill="#50ec20"/>
<rect x="309.420" y="200.620" width="6.315" height="5.830" fill="#90f000"/>
<rect x="315.685" y="200.620" width="6.315" height="5.830" fill="#c8f000"/>
<rect x="321.950" y="200.620" width="6.315" height="5.830" fill="#ff0000"/>
<rect x="328.215" y="200.620" width="6.315" height="5.830" fill="#ff0000"/>
<rect x="334.480" y="200.620" width="6.315" height="5.830" fill="#ff0000"/>
<rect x="340.745" y="200.620" width="6.315" height="5.830" fill="#ff0000"/>
<rect x="347.010" y="200.620" width="6.315" height="5.830" fill="#5c0004"/>
<rect x="134.000" y="206.400" width="6.315" height="5.830" fill="#00f0f0"/>
<rect x="140.265" y="206.400" width="6.315" height="5.830" fill="#10f078"/>
<rect x="146.530" y="206.400" width="6.315" height="5.830" fill="#10f078"/>
<rect x="152.795" y="206.400" width="6.315" height="5.830" fill="#10f078"/>
<rect x="159.060" y="206.400" width="6.315" height="5.830" fill="#10f078"/>
<rect x="165.325" y="206.400" width="6.315" height="5.830" fill="#10f078"/>
<rect x="171.590" y="206.400" width="6.315" height="5.830" fill="#10f078"/>
<rect x="177.855" y="206.400" width="6.315" height="5.830" fill="#28f050"/>
<rect x="184.120" y="206.400" width="6.315" height="5.830" fill="#10f078"/>
<rect x="190.385" y="206.400" width="6.315" height="5.830" fill="#10f078"/>
<rect x="196.650" y="206.400" width="6.315" height="5.830" fill="#10f078"/>
<rect x="202.915" y="206.400" width="6.315" height="5.830" fill="#10f078"/>
<rect x="209.180" y="206.400" width="6.315" height="5.830" fill="#10f078"/>
<rect x="215.445" y="206.400" width="6.315" height="5.830" fill="#10f078"/>
<rect x="221.710" y="206.400" width="6.315" height="5.830" fill="#10f078"/>
<rect x="227.975" y="206.400" width="6.315" height="5.830" fill="#10f078"/>
<rect x="234.240" y="206.400" width="6.315" height="5.830" fill="#10f078"/>
<rect x="240.505" y="206.400" width="6.315" height="5.830" fill="#10f078"/>
<rect x="246.770" y="206.400" width="6.315" height="5.830" fill="#10f078"/>
<rect x="253.035" y="206.400" width="6.315" height="5.830" fill="#10f078"/>
<rect x="259.300" y="206.400" width="6.315" height="5.830" fill="#10f078"/>
<rect x="265.565" y="206.400" width="6.315" height="5.830" fill="#10f078"/>
<rect x="271.830" y="206.400" width="6.315" height="5.830" fill="#10e830"/>
<rect x="278.095" y="206.400" width="6.315" height="5.830" fill="#c8f000"/>
<rect x="284.360" y="206.400" width="6.315" height="5.830" fill="#90f000"/>
<rect x="290.625" y="206.400" width="6.315" height="5.830" fill="#90f000"/>
<rect x="296.890" y="206.400" width="6.315" height="5.830" fill="#50ec20"/>
<rect x="303.155" y="206.400" width="6.315" height="5.830" fill="#50ec20"/>
<rect x="309.420" y="206.400" width="6.315" height="5.830" fill="#90f000"/>
<rect x="315.685" y="206.400" width="6.315" height="5.830" fill="#c8f000"/>
<rect x="321.950" y="206.400" width="6.315" height="5.830" fill="#ff0000"/>
<rect x="328.215" y="206.400" width="6.315" height="5.830" fill="#ff0000"/>
<rect x="334.480" y="206.400" width="6.315" height="5.830" fill="#ff0000"/>
<rect x="340.745" y="206.400" width="6.315" height="5.830" fill="#ff0000"/>
<rect x="347.010" y="206.400" width="6.315" height="5.830" fill="#ff0000"/>
<rect x="353.275" y="206.400" width="6.315" height="5.830" fill="#5c0004"/>
<rect x="134.000" y="212.180" width="6.315" height="5.830" fill="#10a8f0"/>
<rect x="140.265" y="212.180" width="6.315" height="5.830" fill="#00f0a8"/>
<rect x="146.530" y="212.180" width="6.315" height="5.830" fill="#00f0a8"/>
<rect x="152.795" y="212.180" width="6.315" height="5.830" fill="#00f0a8"/>
<rect x="159.060" y="212.180" width="6.315" height="5.830" fill="#00f0a8"/>
<rect x="165.325" y="212.180" width="6.315" height="5.830" fill="#00f0a8"/>
<rect x="171.590" y="212.180" width="6.315" height="5.830" fill="#00f0a8"/>
<rect x="177.855" y="212.180" width="6.315" height="5.830" fill="#28f050"/>
<rect x="184.120" y="212.180" width="6.315" height="5.830" fill="#10f078"/>
<rect x="190.385" y="212.180" width="6.315" height="5.830" fill="#10f078"/>
<rect x="196.650" y="212.180" width="6.315" height="5.830" fill="#10f078"/>
<rect x="202.915" y="212.180" width="6.315" height="5.830" fill="#10f078"/>
<rect x="209.180" y="212.180" width="6.315" height="5.830" fill="#10f078"/>
<rect x="215.445" y="212.180" width="6.315" height="5.830" fill="#10f078"/>
<rect x="221.710" y="212.180" width="6.315" height="5.830" fill="#10f078"/>
<rect x="227.975" y="212.180" width="6.315" height="5.830" fill="#10f078"/>
<rect x="234.240" y="212.180" width="6.315" height="5.830" fill="#10f078"/>
<rect x="240.505" y="212.180" width="6.315" height="5.830" fill="#10f078"/>
<rect x="246.770" y="212.180" width="6.315" height="5.830" fill="#10f078"/>
<rect x="253.035" y="212.180" width="6.315" height="5.830" fill="#10f078"/>
<rect x="259.300" y="212.180" width="6.315" height="5.830" fill="#10f078"/>
<rect x="265.565" y="212.180" width="6.315" height="5.830" fill="#00f0a8"/>
<rect x="271.830" y="212.180" width="6.315" height="5.830" fill="#10f078"/>
<rect x="278.095" y="212.180" width="6.315" height="5.830" fill="#90f000"/>
<rect x="284.360" y="212.180" width="6.315" height="5.830" fill="#10e830"/>
<rect x="290.625" y="212.180" width="6.315" height="5.830" fill="#10e830"/>
<rect x="296.890" y="212.180" width="6.315" height="5.830" fill="#10e830"/>
<rect x="303.155" y="212.180" width="6.315" height="5.830" fill="#90f000"/>
<rect x="309.420" y="212.180" width="6.315" height="5.830" fill="#10e830"/>
<rect x="315.685" y="212.180" width="6.315" height="5.830" fill="#c8f000"/>
<rect x="321.950" y="212.180" width="6.315" height="5.830" fill="#ff9000"/>
<rect x="328.215" y="212.180" width="6.315" height="5.830" fill="#ff9000"/>
<rect x="334.480" y="212.180" width="6.315" height="5.830" fill="#ff9000"/>
<rect x="340.745" y="212.180" width="6.315" height="5.830" fill="#ff9000"/>
<rect x="347.010" y="212.180" width="6.315" height="5.830" fill="#ff9000"/>
<rect x="353.275" y="212.180" width="6.315" height="5.830" fill="#ff9000"/>
<rect x="359.540" y="212.180" width="6.315" height="5.830" fill="#5c0004"/>
<rect x="134.000" y="217.960" width="6.315" height="5.830" fill="#00f0f0"/>
<rect x="140.265" y="217.960" width="6.315" height="5.830" fill="#00f0a8"/>
<rect x="146.530" y="217.960" width="6.315" height="5.830" fill="#00f0a8"/>
<rect x="152.795" y="217.960" width="6.315" height="5.830" fill="#00f0a8"/>
<rect x="159.060" y="217.960" width="6.315" height="5.830" fill="#00f0a8"/>
<rect x="165.325" y="217.960" width="6.315" height="5.830" fill="#00f0a8"/>
<rect x="171.590" y="217.960" width="6.315" height="5.830" fill="#00f0a8"/>
<rect x="177.855" y="217.960" width="6.315" height="5.830" fill="#28f050"/>
<rect x="184.120" y="217.960" width="6.315" height="5.830" fill="#10f078"/>
<rect x="190.385" y="217.960" width="6.315" height="5.830" fill="#10f078"/>
<rect x="196.650" y="217.960" width="6.315" height="5.830" fill="#10f078"/>
<rect x="202.915" y="217.960" width="6.315" height="5.830" fill="#10f078"/>
<rect x="209.180" y="217.960" width="6.315" height="5.830" fill="#10f078"/>
<rect x="215.445" y="217.960" width="6.315" height="5.830" fill="#10f078"/>
<rect x="221.710" y="217.960" width="6.315" height="5.830" fill="#10f078"/>
<rect x="227.975" y="217.960" width="6.315" height="5.830" fill="#10f078"/>
<rect x="234.240" y="217.960" width="6.315" height="5.830" fill="#10f078"/>
<rect x="240.505" y="217.960" width="6.315" height="5.830" fill="#10f078"/>
<rect x="246.770" y="217.960" width="6.315" height="5.830" fill="#10f078"/>
<rect x="253.035" y="217.960" width="6.315" height="5.830" fill="#10f078"/>
<rect x="259.300" y="217.960" width="6.315" height="5.830" fill="#10f078"/>
<rect x="265.565" y="217.960" width="6.315" height="5.830" fill="#00f0a8"/>
<rect x="271.830" y="217.960" width="6.315" height="5.830" fill="#10f078"/>
<rect x="278.095" y="217.960" width="6.315" height="5.830" fill="#90f000"/>
<rect x="284.360" y="217.960" width="6.315" height="5.830" fill="#10e830"/>
<rect x="290.625" y="217.960" width="6.315" height="5.830" fill="#10e830"/>
<rect x="296.890" y="217.960" width="6.315" height="5.830" fill="#10e830"/>
<rect x="303.155" y="217.960" width="6.315" height="5.830" fill="#90f000"/>
<rect x="309.420" y="217.960" width="6.315" height="5.830" fill="#10e830"/>
<rect x="315.685" y="217.960" width="6.315" height="5.830" fill="#c8f000"/>
<rect x="321.950" y="217.960" width="6.315" height="5.830" fill="#ff9000"/>
<rect x="328.215" y="217.960" width="6.315" height="5.830" fill="#ff9000"/>
<rect x="334.480" y="217.960" width="6.315" height="5.830" fill="#ff9000"/>
<rect x="340.745" y="217.960" width="6.315" height="5.830" fill="#ff9000"/>
<rect x="347.010" y="217.960" width="6.315" height="5.830" fill="#ff9000"/>
<rect x="353.275" y="217.960" width="6.315" height="5.830" fill="#ff9000"/>
<rect x="359.540" y="217.960" width="6.315" height="5.830" fill="#980000"/>
<rect x="365.805" y="217.960" width="6.315" height="5.830" fill="#5c0004"/>
<rect x="134.000" y="223.740" width="6.315" height="5.830" fill="#10a8f0"/>
<rect x="140.265" y="223.740" width="6.315" height="5.830" fill="#00f0a8"/>
<rect x="146.530" y="223.740" width="6.315" height="5.830" fill="#00f0a8"/>
<rect x="152.795" y="223.740" width="6.315" height="5.830" fill="#00f0a8"/>
<rect x="159.060" y="223.740" width="6.315" height="5.830" fill="#00f0a8"/>
<rect x="165.325" y="223.740" width="6.315" height="5.830" fill="#00f0a8"/>
<rect x="171.590" y="223.740" width="6.315" height="5.830" fill="#00f0a8"/>
<rect x="177.855" y="223.740" width="6.315" height="5.830" fill="#28f050"/>
<rect x="184.120" y="223.740" width="6.315" height="5.830" fill="#10f078"/>
<rect x="190.385" y="223.740" width="6.315" height="5.830" fill="#10f078"/>
<rect x="196.650" y="223.740" width="6.315" height="5.830" fill="#10f078"/>
<rect x="202.915" y="223.740" width="6.315" height="5.830" fill="#10f078"/>
<rect x="209.180" y="223.740" width="6.315" height="5.830" fill="#10f078"/>
<rect x="215.445" y="223.740" width="6.315" height="5.830" fill="#10f078"/>
<rect x="221.710" y="223.740" width="6.315" height="5.830" fill="#10f078"/>
<rect x="227.975" y="223.740" width="6.315" height="5.830" fill="#10f078"/>
<rect x="234.240" y="223.740" width="6.315" height="5.830" fill="#10f078"/>
<rect x="240.505" y="223.740" width="6.315" height="5.830" fill="#10f078"/>
<rect x="246.770" y="223.740" width="6.315" height="5.830" fill="#10f078"/>
<rect x="253.035" y="223.740" width="6.315" height="5.830" fill="#10f078"/>
<rect x="259.300" y="223.740" width="6.315" height="5.830" fill="#10f078"/>
<rect x="265.565" y="223.740" width="6.315" height="5.830" fill="#00f0a8"/>
<rect x="271.830" y="223.740" width="6.315" height="5.830" fill="#10f078"/>
<rect x="278.095" y="223.740" width="6.315" height="5.830" fill="#90f000"/>
<rect x="284.360" y="223.740" width="6.315" height="5.830" fill="#10e830"/>
<rect x="290.625" y="223.740" width="6.315" height="5.830" fill="#10e830"/>
<rect x="296.890" y="223.740" width="6.315" height="5.830" fill="#10e830"/>
<rect x="303.155" y="223.740" width="6.315" height="5.830" fill="#90f000"/>
<rect x="309.420" y="223.740" width="6.315" height="5.830" fill="#10e830"/>
<rect x="315.685" y="223.740" width="6.315" height="5.830" fill="#c8f000"/>
<rect x="321.950" y="223.740" width="6.315" height="5.830" fill="#ff9000"/>
<rect x="328.215" y="223.740" width="6.315" height="5.830" fill="#ff9000"/>
<rect x="334.480" y="223.740" width="6.315" height="5.830" fill="#ff9000"/>
<rect x="340.745" y="223.740" width="6.315" height="5.830" fill="#ff9000"/>
<rect x="347.010" y="223.740" width="6.315" height="5.830" fill="#ff9000"/>
<rect x="353.275" y="223.740" width="6.315" height="5.830" fill="#ff9000"/>
<rect x="359.540" y="223.740" width="6.315" height="5.830" fill="#980000"/>
<rect x="365.805" y="223.740" width="6.315" height="5.830" fill="#980000"/>
<rect x="372.070" y="223.740" width="6.315" height="5.830" fill="#5c0004"/>
<rect x="134.000" y="229.520" width="6.315" height="5.830" fill="#00f0f0"/>
<rect x="140.265" y="229.520" width="6.315" height="5.830" fill="#00f0a8"/>
<rect x="146.530" y="229.520" width="6.315" height="5.830" fill="#00f0a8"/>
<rect x="152.795" y="229.520" width="6.315" height="5.830" fill="#00f0a8"/>
<rect x="159.060" y="229.520" width="6.315" height="5.830" fill="#00f0a8"/>
<rect x="165.325" y="229.520" width="6.315" height="5.830" fill="#00f0a8"/>
<rect x="171.590" y="229.520" width="6.315" height="5.830" fill="#00f0a8"/>
<rect x="177.855" y="229.520" width="6.315" height="5.830" fill="#28f050"/>
<rect x="184.120" y="229.520" width="6.315" height="5.830" fill="#10f078"/>
<rect x="190.385" y="229.520" width="6.315" height="5.830" fill="#10f078"/>
<rect x="196.650" y="229.520" width="6.315" height="5.830" fill="#10f078"/>
<rect x="202.915" y="229.520" width="6.315" height="5.830" fill="#10f078"/>
<rect x="209.180" y="229.520" width="6.315" height="5.830" fill="#10f078"/>
<rect x="215.445" y="229.520" width="6.315" height="5.830" fill="#10f078"/>
<rect x="221.710" y="229.520" width="6.315" height="5.830" fill="#10f078"/>
<rect x="227.975" y="229.520" width="6.315" height="5.830" fill="#10f078"/>
<rect x="234.240" y="229.520" width="6.315" height="5.830" fill="#10f078"/>
<rect x="240.505" y="229.520" width="6.315" height="5.830" fill="#10f078"/>
<rect x="246.770" y="229.520" width="6.315" height="5.830" fill="#10f078"/>
<rect x="253.035" y="229.520" width="6.315" height="5.830" fill="#10f078"/>
<rect x="259.300" y="229.520" width="6.315" height="5.830" fill="#10f078"/>
<rect x="265.565" y="229.520" width="6.315" height="5.830" fill="#00f0a8"/>
<rect x="271.830" y="229.520" width="6.315" height="5.830" fill="#10f078"/>
<rect x="278.095" y="229.520" width="6.315" height="5.830" fill="#90f000"/>
<rect x="284.360" y="229.520" width="6.315" height="5.830" fill="#10e830"/>
<rect x="290.625" y="229.520" width="6.315" height="5.830" fill="#10e830"/>
<rect x="296.890" y="229.520" width="6.315" height="5.830" fill="#10e830"/>
<rect x="303.155" y="229.520" width="6.315" height="5.830" fill="#10e830"/>
<rect x="309.420" y="229.520" width="6.315" height="5.830" fill="#10e830"/>
<rect x="315.685" y="229.520" width="6.315" height="5.830" fill="#c8f000"/>
<rect x="321.950" y="229.520" width="6.315" height="5.830" fill="#ff9000"/>
<rect x="328.215" y="229.520" width="6.315" height="5.830" fill="#ff9000"/>
<rect x="334.480" y="229.520" width="6.315" height="5.830" fill="#ff9000"/>
<rect x="340.745" y="229.520" width="6.315" height="5.830" fill="#ff9000"/>
<rect x="347.010" y="229.520" width="6.315" height="5.830" fill="#ff9000"/>
<rect x="353.275" y="229.520" width="6.315" height="5.830" fill="#ff9000"/>
<rect x="359.540" y="229.520" width="6.315" height="5.830" fill="#980000"/>
<rect x="365.805" y="229.520" width="6.315" height="5.830" fill="#980000"/>
<rect x="372.070" y="229.520" width="6.315" height="5.830" fill="#980000"/>
<rect x="378.335" y="229.520" width="6.315" height="5.830" fill="#5c0004"/>
<rect x="134.000" y="235.300" width="6.315" height="5.830" fill="#10a8f0"/>
<rect x="140.265" y="235.300" width="6.315" height="5.830" fill="#00f0a8"/>
<rect x="146.530" y="235.300" width="6.315" height="5.830" fill="#00f0a8"/>
<rect x="152.795" y="235.300" width="6.315" height="5.830" fill="#00f0a8"/>
<rect x="159.060" y="235.300" width="6.315" height="5.830" fill="#00f0a8"/>
<rect x="165.325" y="235.300" width="6.315" height="5.830" fill="#00f0a8"/>
<rect x="171.590" y="235.300" width="6.315" height="5.830" fill="#00f0a8"/>
<rect x="177.855" y="235.300" width="6.315" height="5.830" fill="#10f078"/>
<rect x="184.120" y="235.300" width="6.315" height="5.830" fill="#10f078"/>
<rect x="190.385" y="235.300" width="6.315" height="5.830" fill="#10f078"/>
<rect x="196.650" y="235.300" width="6.315" height="5.830" fill="#10f078"/>
<rect x="202.915" y="235.300" width="6.315" height="5.830" fill="#10f078"/>
<rect x="209.180" y="235.300" width="6.315" height="5.830" fill="#10f078"/>
<rect x="215.445" y="235.300" width="6.315" height="5.830" fill="#10f078"/>
<rect x="221.710" y="235.300" width="6.315" height="5.830" fill="#10f078"/>
<rect x="227.975" y="235.300" width="6.315" height="5.830" fill="#10f078"/>
<rect x="234.240" y="235.300" width="6.315" height="5.830" fill="#10f078"/>
<rect x="240.505" y="235.300" width="6.315" height="5.830" fill="#10f078"/>
<rect x="246.770" y="235.300" width="6.315" height="5.830" fill="#10f078"/>
<rect x="253.035" y="235.300" width="6.315" height="5.830" fill="#10f078"/>
<rect x="259.300" y="235.300" width="6.315" height="5.830" fill="#10f078"/>
<rect x="265.565" y="235.300" width="6.315" height="5.830" fill="#00f0a8"/>
<rect x="271.830" y="235.300" width="6.315" height="5.830" fill="#10f078"/>
<rect x="278.095" y="235.300" width="6.315" height="5.830" fill="#90f000"/>
<rect x="284.360" y="235.300" width="6.315" height="5.830" fill="#10e830"/>
<rect x="290.625" y="235.300" width="6.315" height="5.830" fill="#10e830"/>
<rect x="296.890" y="235.300" width="6.315" height="5.830" fill="#10e830"/>
<rect x="303.155" y="235.300" width="6.315" height="5.830" fill="#10e830"/>
<rect x="309.420" y="235.300" width="6.315" height="5.830" fill="#10e830"/>
<rect x="315.685" y="235.300" width="6.315" height="5.830" fill="#c8f000"/>
<rect x="321.950" y="235.300" width="6.315" height="5.830" fill="#ff9000"/>
<rect x="328.215" y="235.300" width="6.315" height="5.830" fill="#ff9000"/>
<rect x="334.480" y="235.300" width="6.315" height="5.830" fill="#ff9000"/>
<rect x="340.745" y="235.300" width="6.315" height="5.830" fill="#ff9000"/>
<rect x="347.010" y="235.300" width="6.315" height="5.830" fill="#ff9000"/>
<rect x="353.275" y="235.300" width="6.315" height="5.830" fill="#ff9000"/>
<rect x="359.540" y="235.300" width="6.315" height="5.830" fill="#ff0000"/>
<rect x="365.805" y="235.300" width="6.315" height="5.830" fill="#ff0000"/>
<rect x="372.070" y="235.300" width="6.315" height="5.830" fill="#ff0000"/>
<rect x="378.335" y="235.300" width="6.315" height="5.830" fill="#ff0000"/>
<rect x="384.600" y="235.300" width="6.315" height="5.830" fill="#5c0004"/>
<rect x="134.000" y="241.080" width="6.315" height="5.830" fill="#00f0f0"/>
<rect x="140.265" y="241.080" width="6.315" height="5.830" fill="#10f078"/>
<rect x="146.530" y="241.080" width="6.315" height="5.830" fill="#10f078"/>
<rect x="152.795" y="241.080" width="6.315" height="5.830" fill="#10f078"/>
<rect x="159.060" y="241.080" width="6.315" height="5.830" fill="#10f078"/>
<rect x="165.325" y="241.080" width="6.315" height="5.830" fill="#10f078"/>
<rect x="171.590" y="241.080" width="6.315" height="5.830" fill="#10f078"/>
<rect x="177.855" y="241.080" width="6.315" height="5.830" fill="#10f078"/>
<rect x="184.120" y="241.080" width="6.315" height="5.830" fill="#10f078"/>
<rect x="190.385" y="241.080" width="6.315" height="5.830" fill="#10f078"/>
<rect x="196.650" y="241.080" width="6.315" height="5.830" fill="#10f078"/>
<rect x="202.915" y="241.080" width="6.315" height="5.830" fill="#10f078"/>
<rect x="209.180" y="241.080" width="6.315" height="5.830" fill="#10f078"/>
<rect x="215.445" y="241.080" width="6.315" height="5.830" fill="#10f078"/>
<rect x="221.710" y="241.080" width="6.315" height="5.830" fill="#10f078"/>
<rect x="227.975" y="241.080" width="6.315" height="5.830" fill="#10f078"/>
<rect x="234.240" y="241.080" width="6.315" height="5.830" fill="#10f078"/>
<rect x="240.505" y="241.080" width="6.315" height="5.830" fill="#10f078"/>
<rect x="246.770" y="241.080" width="6.315" height="5.830" fill="#10f078"/>
<rect x="253.035" y="241.080" width="6.315" height="5.830" fill="#10f078"/>
<rect x="259.300" y="241.080" width="6.315" height="5.830" fill="#10f078"/>
<rect x="265.565" y="241.080" width="6.315" height="5.830" fill="#00f0a8"/>
<rect x="271.830" y="241.080" width="6.315" height="5.830" fill="#10f078"/>
<rect x="278.095" y="241.080" width="6.315" height="5.830" fill="#90f000"/>
<rect x="284.360" y="241.080" width="6.315" height="5.830" fill="#10e830"/>
<rect x="290.625" y="241.080" width="6.315" height="5.830" fill="#10e830"/>
<rect x="296.890" y="241.080" width="6.315" height="5.830" fill="#10e830"/>
<rect x="303.155" y="241.080" width="6.315" height="5.830" fill="#90f000"/>
<rect x="309.420" y="241.080" width="6.315" height="5.830" fill="#10e830"/>
<rect x="315.685" y="241.080" width="6.315" height="5.830" fill="#c8f000"/>
<rect x="321.950" y="241.080" width="6.315" height="5.830" fill="#ff9000"/>
<rect x="328.215" y="241.080" width="6.315" height="5.830" fill="#ff9000"/>
<rect x="334.480" y="241.080" width="6.315" height="5.830" fill="#ff9000"/>
<rect x="340.745" y="241.080" width="6.315" height="5.830" fill="#ff9000"/>
<rect x="347.010" y="241.080" width="6.315" height="5.830" fill="#ff9000"/>
<rect x="353.275" y="241.080" width="6.315" height="5.830" fill="#ff9000"/>
<rect x="359.540" y="241.080" width="6.315" height="5.830" fill="#ff8c00"/>
<rect x="365.805" y="241.080" width="6.315" height="5.830" fill="#ff8c00"/>
<rect x="372.070" y="241.080" width="6.315" height="5.830" fill="#ff8c00"/>
<rect x="378.335" y="241.080" width="6.315" height="5.830" fill="#ff8c00"/>
<rect x="384.600" y="241.080" width="6.315" height="5.830" fill="#ff8c00"/>
<rect x="390.865" y="241.080" width="6.315" height="5.830" fill="#5c0004"/>
<rect x="134.000" y="246.860" width="6.315" height="5.830" fill="#00f0f0"/>
<rect x="140.265" y="246.860" width="6.315" height="5.830" fill="#10f078"/>
<rect x="146.530" y="246.860" width="6.315" height="5.830" fill="#10f078"/>
<rect x="152.795" y="246.860" width="6.315" height="5.830" fill="#10f078"/>
<rect x="159.060" y="246.860" width="6.315" height="5.830" fill="#10f078"/>
<rect x="165.325" y="246.860" width="6.315" height="5.830" fill="#10f078"/>
<rect x="171.590" y="246.860" width="6.315" height="5.830" fill="#10f078"/>
<rect x="177.855" y="246.860" width="6.315" height="5.830" fill="#10f078"/>
<rect x="184.120" y="246.860" width="6.315" height="5.830" fill="#10f078"/>
<rect x="190.385" y="246.860" width="6.315" height="5.830" fill="#10f078"/>
<rect x="196.650" y="246.860" width="6.315" height="5.830" fill="#10f078"/>
<rect x="202.915" y="246.860" width="6.315" height="5.830" fill="#10f078"/>
<rect x="209.180" y="246.860" width="6.315" height="5.830" fill="#10f078"/>
<rect x="215.445" y="246.860" width="6.315" height="5.830" fill="#10f078"/>
<rect x="221.710" y="246.860" width="6.315" height="5.830" fill="#10f078"/>
<rect x="227.975" y="246.860" width="6.315" height="5.830" fill="#10f078"/>
<rect x="234.240" y="246.860" width="6.315" height="5.830" fill="#10f078"/>
<rect x="240.505" y="246.860" width="6.315" height="5.830" fill="#10f078"/>
<rect x="246.770" y="246.860" width="6.315" height="5.830" fill="#10f078"/>
<rect x="253.035" y="246.860" width="6.315" height="5.830" fill="#10f078"/>
<rect x="259.300" y="246.860" width="6.315" height="5.830" fill="#10f078"/>
<rect x="265.565" y="246.860" width="6.315" height="5.830" fill="#00f0a8"/>
<rect x="271.830" y="246.860" width="6.315" height="5.830" fill="#10f078"/>
<rect x="278.095" y="246.860" width="6.315" height="5.830" fill="#90f000"/>
<rect x="284.360" y="246.860" width="6.315" height="5.830" fill="#10e830"/>
<rect x="290.625" y="246.860" width="6.315" height="5.830" fill="#10e830"/>
<rect x="296.890" y="246.860" width="6.315" height="5.830" fill="#10e830"/>
<rect x="303.155" y="246.860" width="6.315" height="5.830" fill="#10e830"/>
<rect x="309.420" y="246.860" width="6.315" height="5.830" fill="#10e830"/>
<rect x="315.685" y="246.860" width="6.315" height="5.830" fill="#c8f000"/>
<rect x="321.950" y="246.860" width="6.315" height="5.830" fill="#ff9000"/>
<rect x="328.215" y="246.860" width="6.315" height="5.830" fill="#ff9000"/>
<rect x="334.480" y="246.860" width="6.315" height="5.830" fill="#ff9000"/>
<rect x="340.745" y="246.860" width="6.315" height="5.830" fill="#ff9000"/>
<rect x="347.010" y="246.860" width="6.315" height="5.830" fill="#ff9000"/>
<rect x="353.275" y="246.860" width="6.315" height="5.830" fill="#ff9000"/>
<rect x="359.540" y="246.860" width="6.315" height="5.830" fill="#ff8c00"/>
<rect x="365.805" y="246.860" width="6.315" height="5.830" fill="#ff8c00"/>
<rect x="372.070" y="246.860" width="6.315" height="5.830" fill="#ff8c00"/>
<rect x="378.335" y="246.860" width="6.315" height="5.830" fill="#ff8c00"/>
<rect x="384.600" y="246.860" width="6.315" height="5.830" fill="#ff8c00"/>
<rect x="390.865" y="246.860" width="6.315" height="5.830" fill="#ff0000"/>
<rect x="397.130" y="246.860" width="6.315" height="5.830" fill="#5c0004"/>
<rect x="134.000" y="252.640" width="6.315" height="5.830" fill="#1070f0"/>
<rect x="140.265" y="252.640" width="6.315" height="5.830" fill="#00f0e0"/>
<rect x="146.530" y="252.640" width="6.315" height="5.830" fill="#00f0e0"/>
<rect x="152.795" y="252.640" width="6.315" height="5.830" fill="#00f0e0"/>
<rect x="159.060" y="252.640" width="6.315" height="5.830" fill="#00f0e0"/>
<rect x="165.325" y="252.640" width="6.315" height="5.830" fill="#00f0e0"/>
<rect x="171.590" y="252.640" width="6.315" height="5.830" fill="#00f0e0"/>
<rect x="177.855" y="252.640" width="6.315" height="5.830" fill="#00f0e0"/>
<rect x="184.120" y="252.640" width="6.315" height="5.830" fill="#00f0e0"/>
<rect x="190.385" y="252.640" width="6.315" height="5.830" fill="#00f0e0"/>
<rect x="196.650" y="252.640" width="6.315" height="5.830" fill="#00f0e0"/>
<rect x="202.915" y="252.640" width="6.315" height="5.830" fill="#00f0e0"/>
<rect x="209.180" y="252.640" width="6.315" height="5.830" fill="#00f0e0"/>
<rect x="215.445" y="252.640" width="6.315" height="5.830" fill="#00f0e0"/>
<rect x="221.710" y="252.640" width="6.315" height="5.830" fill="#00f0e0"/>
<rect x="227.975" y="252.640" width="6.315" height="5.830" fill="#00f0e0"/>
<rect x="234.240" y="252.640" width="6.315" height="5.830" fill="#00f0e0"/>
<rect x="240.505" y="252.640" width="6.315" height="5.830" fill="#00f0e0"/>
<rect x="246.770" y="252.640" width="6.315" height="5.830" fill="#00f0e0"/>
<rect x="253.035" y="252.640" width="6.315" height="5.830" fill="#00f0e0"/>
<rect x="259.300" y="252.640" width="6.315" height="5.830" fill="#00f0e0"/>
<rect x="265.565" y="252.640" width="6.315" height="5.830" fill="#00f0e0"/>
<rect x="271.830" y="252.640" width="6.315" height="5.830" fill="#10f078"/>
<rect x="278.095" y="252.640" width="6.315" height="5.830" fill="#10e830"/>
<rect x="284.360" y="252.640" width="6.315" height="5.830" fill="#10e830"/>
<rect x="290.625" y="252.640" width="6.315" height="5.830" fill="#10e830"/>
<rect x="296.890" y="252.640" width="6.315" height="5.830" fill="#10e830"/>
<rect x="303.155" y="252.640" width="6.315" height="5.830" fill="#10e830"/>
<rect x="309.420" y="252.640" width="6.315" height="5.830" fill="#10e830"/>
<rect x="315.685" y="252.640" width="6.315" height="5.830" fill="#10e830"/>
<rect x="321.950" y="252.640" width="6.315" height="5.830" fill="#fff000"/>
<rect x="328.215" y="252.640" width="6.315" height="5.830" fill="#fff000"/>
<rect x="334.480" y="252.640" width="6.315" height="5.830" fill="#fff000"/>
<rect x="340.745" y="252.640" width="6.315" height="5.830" fill="#fff000"/>
<rect x="347.010" y="252.640" width="6.315" height="5.830" fill="#fff000"/>
<rect x="353.275" y="252.640" width="6.315" height="5.830" fill="#fff000"/>
<rect x="359.540" y="252.640" width="6.315" height="5.830" fill="#fff000"/>
<rect x="365.805" y="252.640" width="6.315" height="5.830" fill="#fff000"/>
<rect x="372.070" y="252.640" width="6.315" height="5.830" fill="#fff000"/>
<rect x="378.335" y="252.640" width="6.315" height="5.830" fill="#fff000"/>
<rect x="384.600" y="252.640" width="6.315" height="5.830" fill="#fff000"/>
<rect x="390.865" y="252.640" width="6.315" height="5.830" fill="#fff000"/>
<rect x="397.130" y="252.640" width="6.315" height="5.830" fill="#fff000"/>
<rect x="403.395" y="252.640" width="6.315" height="5.830" fill="#5c0004"/>
<rect x="134.000" y="258.420" width="6.315" height="5.830" fill="#1070f0"/>
<rect x="140.265" y="258.420" width="6.315" height="5.830" fill="#00f0e0"/>
<rect x="146.530" y="258.420" width="6.315" height="5.830" fill="#00f0e0"/>
<rect x="152.795" y="258.420" width="6.315" height="5.830" fill="#00f0e0"/>
<rect x="159.060" y="258.420" width="6.315" height="5.830" fill="#00f0e0"/>
<rect x="165.325" y="258.420" width="6.315" height="5.830" fill="#00f0e0"/>
<rect x="171.590" y="258.420" width="6.315" height="5.830" fill="#00f0e0"/>
<rect x="177.855" y="258.420" width="6.315" height="5.830" fill="#00f0e0"/>
<rect x="184.120" y="258.420" width="6.315" height="5.830" fill="#00f0e0"/>
<rect x="190.385" y="258.420" width="6.315" height="5.830" fill="#00f0e0"/>
<rect x="196.650" y="258.420" width="6.315" height="5.830" fill="#00f0e0"/>
<rect x="202.915" y="258.420" width="6.315" height="5.830" fill="#00f0e0"/>
<rect x="209.180" y="258.420" width="6.315" height="5.830" fill="#00f0e0"/>
<rect x="215.445" y="258.420" width="6.315" height="5.830" fill="#00f0e0"/>
<rect x="221.710" y="258.420" width="6.315" height="5.830" fill="#00f0e0"/>
<rect x="227.975" y="258.420" width="6.315" height="5.830" fill="#00f0e0"/>
<rect x="234.240" y="258.420" width="6.315" height="5.830" fill="#00f0e0"/>
<rect x="240.505" y="258.420" width="6.315" height="5.830" fill="#00f0e0"/>
<rect x="246.770" y="258.420" width="6.315" height="5.830" fill="#00f0e0"/>
<rect x="253.035" y="258.420" width="6.315" height="5.830" fill="#00f0e0"/>
<rect x="259.300" y="258.420" width="6.315" height="5.830" fill="#00f0e0"/>
<rect x="265.565" y="258.420" width="6.315" height="5.830" fill="#00f0e0"/>
<rect x="271.830" y="258.420" width="6.315" height="5.830" fill="#10f078"/>
<rect x="278.095" y="258.420" width="6.315" height="5.830" fill="#10e830"/>
<rect x="284.360" y="258.420" width="6.315" height="5.830" fill="#10e830"/>
<rect x="290.625" y="258.420" width="6.315" height="5.830" fill="#10e830"/>
<rect x="296.890" y="258.420" width="6.315" height="5.830" fill="#10e830"/>
<rect x="303.155" y="258.420" width="6.315" height="5.830" fill="#10e830"/>
<rect x="309.420" y="258.420" width="6.315" height="5.830" fill="#10e830"/>
<rect x="315.685" y="258.420" width="6.315" height="5.830" fill="#10e830"/>
<rect x="321.950" y="258.420" width="6.315" height="5.830" fill="#fff000"/>
<rect x="328.215" y="258.420" width="6.315" height="5.830" fill="#fff000"/>
<rect x="334.480" y="258.420" width="6.315" height="5.830" fill="#fff000"/>
<rect x="340.745" y="258.420" width="6.315" height="5.830" fill="#fff000"/>
<rect x="347.010" y="258.420" width="6.315" height="5.830" fill="#fff000"/>
<rect x="353.275" y="258.420" width="6.315" height="5.830" fill="#fff000"/>
<rect x="359.540" y="258.420" width="6.315" height="5.830" fill="#fff000"/>
<rect x="365.805" y="258.420" width="6.315" height="5.830" fill="#fff000"/>
<rect x="372.070" y="258.420" width="6.315" height="5.830" fill="#fff000"/>
<rect x="378.335" y="258.420" width="6.315" height="5.830" fill="#fff000"/>
<rect x="384.600" y="258.420" width="6.315" height="5.830" fill="#fff000"/>
<rect x="390.865" y="258.420" width="6.315" height="5.830" fill="#fff000"/>
<rect x="397.130" y="258.420" width="6.315" height="5.830" fill="#fff000"/>
<rect x="403.395" y="258.420" width="6.315" height="5.830" fill="#980000"/>
<rect x="409.660" y="258.420" width="6.315" height="5.830" fill="#5c0004"/>
<rect x="134.000" y="264.200" width="6.315" height="5.830" fill="#10a8f0"/>
<rect x="140.265" y="264.200" width="6.315" height="5.830" fill="#00f0e0"/>
<rect x="146.530" y="264.200" width="6.315" height="5.830" fill="#00f0e0"/>
<rect x="152.795" y="264.200" width="6.315" height="5.830" fill="#00f0e0"/>
<rect x="159.060" y="264.200" width="6.315" height="5.830" fill="#00f0e0"/>
<rect x="165.325" y="264.200" width="6.315" height="5.830" fill="#00f0e0"/>
<rect x="171.590" y="264.200" width="6.315" height="5.830" fill="#00f0e0"/>
<rect x="177.855" y="264.200" width="6.315" height="5.830" fill="#00f0e0"/>
<rect x="184.120" y="264.200" width="6.315" height="5.830" fill="#00f0e0"/>
<rect x="190.385" y="264.200" width="6.315" height="5.830" fill="#00f0e0"/>
<rect x="196.650" y="264.200" width="6.315" height="5.830" fill="#00f0e0"/>
<rect x="202.915" y="264.200" width="6.315" height="5.830" fill="#00f0e0"/>
<rect x="209.180" y="264.200" width="6.315" height="5.830" fill="#00f0e0"/>
<rect x="215.445" y="264.200" width="6.315" height="5.830" fill="#00f0e0"/>
<rect x="221.710" y="264.200" width="6.315" height="5.830" fill="#00f0e0"/>
<rect x="227.975" y="264.200" width="6.315" height="5.830" fill="#00f0e0"/>
<rect x="234.240" y="264.200" width="6.315" height="5.830" fill="#00f0e0"/>
<rect x="240.505" y="264.200" width="6.315" height="5.830" fill="#00f0e0"/>
<rect x="246.770" y="264.200" width="6.315" height="5.830" fill="#00f0e0"/>
<rect x="253.035" y="264.200" width="6.315" height="5.830" fill="#00f0e0"/>
<rect x="259.300" y="264.200" width="6.315" height="5.830" fill="#00f0e0"/>
<rect x="265.565" y="264.200" width="6.315" height="5.830" fill="#00f0e0"/>
<rect x="271.830" y="264.200" width="6.315" height="5.830" fill="#10f078"/>
<rect x="278.095" y="264.200" width="6.315" height="5.830" fill="#10e830"/>
<rect x="284.360" y="264.200" width="6.315" height="5.830" fill="#10e830"/>
<rect x="290.625" y="264.200" width="6.315" height="5.830" fill="#10e830"/>
<rect x="296.890" y="264.200" width="6.315" height="5.830" fill="#10e830"/>
<rect x="303.155" y="264.200" width="6.315" height="5.830" fill="#10e830"/>
<rect x="309.420" y="264.200" width="6.315" height="5.830" fill="#10e830"/>
<rect x="315.685" y="264.200" width="6.315" height="5.830" fill="#10e830"/>
<rect x="321.950" y="264.200" width="6.315" height="5.830" fill="#fff000"/>
<rect x="328.215" y="264.200" width="6.315" height="5.830" fill="#fff000"/>
<rect x="334.480" y="264.200" width="6.315" height="5.830" fill="#fff000"/>
<rect x="340.745" y="264.200" width="6.315" height="5.830" fill="#fff000"/>
<rect x="347.010" y="264.200" width="6.315" height="5.830" fill="#fff000"/>
<rect x="353.275" y="264.200" width="6.315" height="5.830" fill="#fff000"/>
<rect x="359.540" y="264.200" width="6.315" height="5.830" fill="#fff000"/>
<rect x="365.805" y="264.200" width="6.315" height="5.830" fill="#fff000"/>
<rect x="372.070" y="264.200" width="6.315" height="5.830" fill="#fff000"/>
<rect x="378.335" y="264.200" width="6.315" height="5.830" fill="#fff000"/>
<rect x="384.600" y="264.200" width="6.315" height="5.830" fill="#fff000"/>
<rect x="390.865" y="264.200" width="6.315" height="5.830" fill="#fff000"/>
<rect x="397.130" y="264.200" width="6.315" height="5.830" fill="#fff000"/>
<rect x="403.395" y="264.200" width="6.315" height="5.830" fill="#ff0000"/>
<rect x="409.660" y="264.200" width="6.315" height="5.830" fill="#ff0000"/>
<rect x="415.925" y="264.200" width="6.315" height="5.830" fill="#5c0004"/>
<rect x="134.000" y="269.980" width="6.315" height="5.830" fill="#10a8f0"/>
<rect x="140.265" y="269.980" width="6.315" height="5.830" fill="#00f0e0"/>
<rect x="146.530" y="269.980" width="6.315" height="5.830" fill="#00f0e0"/>
<rect x="152.795" y="269.980" width="6.315" height="5.830" fill="#00f0e0"/>
<rect x="159.060" y="269.980" width="6.315" height="5.830" fill="#00f0e0"/>
<rect x="165.325" y="269.980" width="6.315" height="5.830" fill="#00f0e0"/>
<rect x="171.590" y="269.980" width="6.315" height="5.830" fill="#00f0e0"/>
<rect x="177.855" y="269.980" width="6.315" height="5.830" fill="#00f0e0"/>
<rect x="184.120" y="269.980" width="6.315" height="5.830" fill="#00f0e0"/>
<rect x="190.385" y="269.980" width="6.315" height="5.830" fill="#00f0e0"/>
<rect x="196.650" y="269.980" width="6.315" height="5.830" fill="#00f0e0"/>
<rect x="202.915" y="269.980" width="6.315" height="5.830" fill="#00f0e0"/>
<rect x="209.180" y="269.980" width="6.315" height="5.830" fill="#00f0e0"/>
<rect x="215.445" y="269.980" width="6.315" height="5.830" fill="#00f0e0"/>
<rect x="221.710" y="269.980" width="6.315" height="5.830" fill="#00f0e0"/>
<rect x="227.975" y="269.980" width="6.315" height="5.830" fill="#00f0e0"/>
<rect x="234.240" y="269.980" width="6.315" height="5.830" fill="#00f0e0"/>
<rect x="240.505" y="269.980" width="6.315" height="5.830" fill="#00f0e0"/>
<rect x="246.770" y="269.980" width="6.315" height="5.830" fill="#00f0e0"/>
<rect x="253.035" y="269.980" width="6.315" height="5.830" fill="#00f0e0"/>
<rect x="259.300" y="269.980" width="6.315" height="5.830" fill="#00f0e0"/>
<rect x="265.565" y="269.980" width="6.315" height="5.830" fill="#00f0e0"/>
<rect x="271.830" y="269.980" width="6.315" height="5.830" fill="#10f078"/>
<rect x="278.095" y="269.980" width="6.315" height="5.830" fill="#10e830"/>
<rect x="284.360" y="269.980" width="6.315" height="5.830" fill="#10e830"/>
<rect x="290.625" y="269.980" width="6.315" height="5.830" fill="#10e830"/>
<rect x="296.890" y="269.980" width="6.315" height="5.830" fill="#10e830"/>
<rect x="303.155" y="269.980" width="6.315" height="5.830" fill="#10e830"/>
<rect x="309.420" y="269.980" width="6.315" height="5.830" fill="#10e830"/>
<rect x="315.685" y="269.980" width="6.315" height="5.830" fill="#10e830"/>
<rect x="321.950" y="269.980" width="6.315" height="5.830" fill="#fff000"/>
<rect x="328.215" y="269.980" width="6.315" height="5.830" fill="#fff000"/>
<rect x="334.480" y="269.980" width="6.315" height="5.830" fill="#fff000"/>
<rect x="340.745" y="269.980" width="6.315" height="5.830" fill="#fff000"/>
<rect x="347.010" y="269.980" width="6.315" height="5.830" fill="#fff000"/>
<rect x="353.275" y="269.980" width="6.315" height="5.830" fill="#fff000"/>
<rect x="359.540" y="269.980" width="6.315" height="5.830" fill="#fff000"/>
<rect x="365.805" y="269.980" width="6.315" height="5.830" fill="#fff000"/>
<rect x="372.070" y="269.980" width="6.315" height="5.830" fill="#fff000"/>
<rect x="378.335" y="269.980" width="6.315" height="5.830" fill="#fff000"/>
<rect x="384.600" y="269.980" width="6.315" height="5.830" fill="#fff000"/>
<rect x="390.865" y="269.980" width="6.315" height="5.830" fill="#fff000"/>
<rect x="397.130" y="269.980" width="6.315" height="5.830" fill="#fff000"/>
<rect x="403.395" y="269.980" width="6.315" height="5.830" fill="#ff0000"/>
<rect x="409.660" y="269.980" width="6.315" height="5.830" fill="#ff0000"/>
<rect x="415.925" y="269.980" width="6.315" height="5.830" fill="#980000"/>
<rect x="422.190" y="269.980" width="6.315" height="5.830" fill="#5c0004"/>
<rect x="134.000" y="275.760" width="6.315" height="5.830" fill="#10a8f0"/>
<rect x="140.265" y="275.760" width="6.315" height="5.830" fill="#00f0e0"/>
<rect x="146.530" y="275.760" width="6.315" height="5.830" fill="#00f0e0"/>
<rect x="152.795" y="275.760" width="6.315" height="5.830" fill="#00f0e0"/>
<rect x="159.060" y="275.760" width="6.315" height="5.830" fill="#00f0e0"/>
<rect x="165.325" y="275.760" width="6.315" height="5.830" fill="#00f0e0"/>
<rect x="171.590" y="275.760" width="6.315" height="5.830" fill="#00f0e0"/>
<rect x="177.855" y="275.760" width="6.315" height="5.830" fill="#00f0e0"/>
<rect x="184.120" y="275.760" width="6.315" height="5.830" fill="#00f0e0"/>
<rect x="190.385" y="275.760" width="6.315" height="5.830" fill="#00f0e0"/>
<rect x="196.650" y="275.760" width="6.315" height="5.830" fill="#00f0e0"/>
<rect x="202.915" y="275.760" width="6.315" height="5.830" fill="#00f0e0"/>
<rect x="209.180" y="275.760" width="6.315" height="5.830" fill="#00f0e0"/>
<rect x="215.445" y="275.760" width="6.315" height="5.830" fill="#00f0e0"/>
<rect x="221.710" y="275.760" width="6.315" height="5.830" fill="#00f0e0"/>
<rect x="227.975" y="275.760" width="6.315" height="5.830" fill="#00f0e0"/>
<rect x="234.240" y="275.760" width="6.315" height="5.830" fill="#00f0e0"/>
<rect x="240.505" y="275.760" width="6.315" height="5.830" fill="#00f0e0"/>
<rect x="246.770" y="275.760" width="6.315" height="5.830" fill="#00f0e0"/>
<rect x="253.035" y="275.760" width="6.315" height="5.830" fill="#00f0e0"/>
<rect x="259.300" y="275.760" width="6.315" height="5.830" fill="#00f0e0"/>
<rect x="265.565" y="275.760" width="6.315" height="5.830" fill="#00f0e0"/>
<rect x="271.830" y="275.760" width="6.315" height="5.830" fill="#10f078"/>
<rect x="278.095" y="275.760" width="6.315" height="5.830" fill="#10e830"/>
<rect x="284.360" y="275.760" width="6.315" height="5.830" fill="#10e830"/>
<rect x="290.625" y="275.760" width="6.315" height="5.830" fill="#10e830"/>
<rect x="296.890" y="275.760" width="6.315" height="5.830" fill="#10e830"/>
<rect x="303.155" y="275.760" width="6.315" height="5.830" fill="#10e830"/>
<rect x="309.420" y="275.760" width="6.315" height="5.830" fill="#10e830"/>
<rect x="315.685" y="275.760" width="6.315" height="5.830" fill="#10e830"/>
<rect x="321.950" y="275.760" width="6.315" height="5.830" fill="#fff000"/>
<rect x="328.215" y="275.760" width="6.315" height="5.830" fill="#fff000"/>
<rect x="334.480" y="275.760" width="6.315" height="5.830" fill="#fff000"/>
<rect x="340.745" y="275.760" width="6.315" height="5.830" fill="#fff000"/>
<rect x="347.010" y="275.760" width="6.315" height="5.830" fill="#fff000"/>
<rect x="353.275" y="275.760" width="6.315" height="5.830" fill="#fff000"/>
<rect x="359.540" y="275.760" width="6.315" height="5.830" fill="#fff000"/>
<rect x="365.805" y="275.760" width="6.315" height="5.830" fill="#fff000"/>
<rect x="372.070" y="275.760" width="6.315" height="5.830" fill="#fff000"/>
<rect x="378.335" y="275.760" width="6.315" height="5.830" fill="#fff000"/>
<rect x="384.600" y="275.760" width="6.315" height="5.830" fill="#fff000"/>
<rect x="390.865" y="275.760" width="6.315" height="5.830" fill="#fff000"/>
<rect x="397.130" y="275.760" width="6.315" height="5.830" fill="#fff000"/>
<rect x="403.395" y="275.760" width="6.315" height="5.830" fill="#ff0000"/>
<rect x="409.660" y="275.760" width="6.315" height="5.830" fill="#ff0000"/>
<rect x="415.925" y="275.760" width="6.315" height="5.830" fill="#980000"/>
<rect x="422.190" y="275.760" width="6.315" height="5.830" fill="#980000"/>
<rect x="428.455" y="275.760" width="6.315" height="5.830" fill="#5c0004"/>
<rect x="134.000" y="281.540" width="6.315" height="5.830" fill="#10a8f0"/>
<rect x="140.265" y="281.540" width="6.315" height="5.830" fill="#00f0b4"/>
<rect x="146.530" y="281.540" width="6.315" height="5.830" fill="#00f0b4"/>
<rect x="152.795" y="281.540" width="6.315" height="5.830" fill="#00f0b4"/>
<rect x="159.060" y="281.540" width="6.315" height="5.830" fill="#00f0b4"/>
<rect x="165.325" y="281.540" width="6.315" height="5.830" fill="#00f0b4"/>
<rect x="171.590" y="281.540" width="6.315" height="5.830" fill="#00f0b4"/>
<rect x="177.855" y="281.540" width="6.315" height="5.830" fill="#00f0b4"/>
<rect x="184.120" y="281.540" width="6.315" height="5.830" fill="#00f0b4"/>
<rect x="190.385" y="281.540" width="6.315" height="5.830" fill="#00f0b4"/>
<rect x="196.650" y="281.540" width="6.315" height="5.830" fill="#00f0b4"/>
<rect x="202.915" y="281.540" width="6.315" height="5.830" fill="#00f0b4"/>
<rect x="209.180" y="281.540" width="6.315" height="5.830" fill="#00f0b4"/>
<rect x="215.445" y="281.540" width="6.315" height="5.830" fill="#00f0b4"/>
<rect x="221.710" y="281.540" width="6.315" height="5.830" fill="#00f0b4"/>
<rect x="227.975" y="281.540" width="6.315" height="5.830" fill="#00f0b4"/>
<rect x="234.240" y="281.540" width="6.315" height="5.830" fill="#00f0b4"/>
<rect x="240.505" y="281.540" width="6.315" height="5.830" fill="#00f0b4"/>
<rect x="246.770" y="281.540" width="6.315" height="5.830" fill="#00f0b4"/>
<rect x="253.035" y="281.540" width="6.315" height="5.830" fill="#00f0b4"/>
<rect x="259.300" y="281.540" width="6.315" height="5.830" fill="#00f0b4"/>
<rect x="265.565" y="281.540" width="6.315" height="5.830" fill="#00f0b4"/>
<rect x="271.830" y="281.540" width="6.315" height="5.830" fill="#10f078"/>
<rect x="278.095" y="281.540" width="6.315" height="5.830" fill="#10e830"/>
<rect x="284.360" y="281.540" width="6.315" height="5.830" fill="#10e830"/>
<rect x="290.625" y="281.540" width="6.315" height="5.830" fill="#10e830"/>
<rect x="296.890" y="281.540" width="6.315" height="5.830" fill="#10e830"/>
<rect x="303.155" y="281.540" width="6.315" height="5.830" fill="#10e830"/>
<rect x="309.420" y="281.540" width="6.315" height="5.830" fill="#10e830"/>
<rect x="315.685" y="281.540" width="6.315" height="5.830" fill="#10e830"/>
<rect x="321.950" y="281.540" width="6.315" height="5.830" fill="#ffe600"/>
<rect x="328.215" y="281.540" width="6.315" height="5.830" fill="#ffe600"/>
<rect x="334.480" y="281.540" width="6.315" height="5.830" fill="#ffe600"/>
<rect x="340.745" y="281.540" width="6.315" height="5.830" fill="#ffe600"/>
<rect x="347.010" y="281.540" width="6.315" height="5.830" fill="#ffe600"/>
<rect x="353.275" y="281.540" width="6.315" height="5.830" fill="#ffe600"/>
<rect x="359.540" y="281.540" width="6.315" height="5.830" fill="#ffe600"/>
<rect x="365.805" y="281.540" width="6.315" height="5.830" fill="#ffe600"/>
<rect x="372.070" y="281.540" width="6.315" height="5.830" fill="#ffe600"/>
<rect x="378.335" y="281.540" width="6.315" height="5.830" fill="#ffe600"/>
<rect x="384.600" y="281.540" width="6.315" height="5.830" fill="#ffe600"/>
<rect x="390.865" y="281.540" width="6.315" height="5.830" fill="#ffe600"/>
<rect x="397.130" y="281.540" width="6.315" height="5.830" fill="#ffe600"/>
<rect x="403.395" y="281.540" width="6.315" height="5.830" fill="#ffff00"/>
<rect x="409.660" y="281.540" width="6.315" height="5.830" fill="#ffff00"/>
<rect x="415.925" y="281.540" width="6.315" height="5.830" fill="#ffff00"/>
<rect x="422.190" y="281.540" width="6.315" height="5.830" fill="#ffff00"/>
<rect x="428.455" y="281.540" width="6.315" height="5.830" fill="#ffff00"/>
<rect x="434.720" y="281.540" width="6.315" height="5.830" fill="#5c0004"/>
<rect x="134.000" y="287.320" width="6.315" height="5.830" fill="#10a8f0"/>
<rect x="140.265" y="287.320" width="6.315" height="5.830" fill="#00f0b4"/>
<rect x="146.530" y="287.320" width="6.315" height="5.830" fill="#00f0b4"/>
<rect x="152.795" y="287.320" width="6.315" height="5.830" fill="#00f0b4"/>
<rect x="159.060" y="287.320" width="6.315" height="5.830" fill="#00f0b4"/>
<rect x="165.325" y="287.320" width="6.315" height="5.830" fill="#00f0b4"/>
<rect x="171.590" y="287.320" width="6.315" height="5.830" fill="#00f0b4"/>
<rect x="177.855" y="287.320" width="6.315" height="5.830" fill="#00f0b4"/>
<rect x="184.120" y="287.320" width="6.315" height="5.830" fill="#00f0b4"/>
<rect x="190.385" y="287.320" width="6.315" height="5.830" fill="#00f0b4"/>
<rect x="196.650" y="287.320" width="6.315" height="5.830" fill="#00f0b4"/>
<rect x="202.915" y="287.320" width="6.315" height="5.830" fill="#00f0b4"/>
<rect x="209.180" y="287.320" width="6.315" height="5.830" fill="#00f0b4"/>
<rect x="215.445" y="287.320" width="6.315" height="5.830" fill="#00f0b4"/>
<rect x="221.710" y="287.320" width="6.315" height="5.830" fill="#00f0b4"/>
<rect x="227.975" y="287.320" width="6.315" height="5.830" fill="#00f0b4"/>
<rect x="234.240" y="287.320" width="6.315" height="5.830" fill="#00f0b4"/>
<rect x="240.505" y="287.320" width="6.315" height="5.830" fill="#00f0b4"/>
<rect x="246.770" y="287.320" width="6.315" height="5.830" fill="#00f0b4"/>
<rect x="253.035" y="287.320" width="6.315" height="5.830" fill="#00f0b4"/>
<rect x="259.300" y="287.320" width="6.315" height="5.830" fill="#00f0b4"/>
<rect x="265.565" y="287.320" width="6.315" height="5.830" fill="#00f0b4"/>
<rect x="271.830" y="287.320" width="6.315" height="5.830" fill="#10f078"/>
<rect x="278.095" y="287.320" width="6.315" height="5.830" fill="#10e830"/>
<rect x="284.360" y="287.320" width="6.315" height="5.830" fill="#10e830"/>
<rect x="290.625" y="287.320" width="6.315" height="5.830" fill="#10e830"/>
<rect x="296.890" y="287.320" width="6.315" height="5.830" fill="#10e830"/>
<rect x="303.155" y="287.320" width="6.315" height="5.830" fill="#10e830"/>
<rect x="309.420" y="287.320" width="6.315" height="5.830" fill="#10e830"/>
<rect x="315.685" y="287.320" width="6.315" height="5.830" fill="#10e830"/>
<rect x="321.950" y="287.320" width="6.315" height="5.830" fill="#ffe600"/>
<rect x="328.215" y="287.320" width="6.315" height="5.830" fill="#ffe600"/>
<rect x="334.480" y="287.320" width="6.315" height="5.830" fill="#ffe600"/>
<rect x="340.745" y="287.320" width="6.315" height="5.830" fill="#ffe600"/>
<rect x="347.010" y="287.320" width="6.315" height="5.830" fill="#ffe600"/>
<rect x="353.275" y="287.320" width="6.315" height="5.830" fill="#ffe600"/>
<rect x="359.540" y="287.320" width="6.315" height="5.830" fill="#ffe600"/>
<rect x="365.805" y="287.320" width="6.315" height="5.830" fill="#ffe600"/>
<rect x="372.070" y="287.320" width="6.315" height="5.830" fill="#ffe600"/>
<rect x="378.335" y="287.320" width="6.315" height="5.830" fill="#ffe600"/>
<rect x="384.600" y="287.320" width="6.315" height="5.830" fill="#ffe600"/>
<rect x="390.865" y="287.320" width="6.315" height="5.830" fill="#ffe600"/>
<rect x="397.130" y="287.320" width="6.315" height="5.830" fill="#ffe600"/>
<rect x="403.395" y="287.320" width="6.315" height="5.830" fill="#ffff00"/>
<rect x="409.660" y="287.320" width="6.315" height="5.830" fill="#ffff00"/>
<rect x="415.925" y="287.320" width="6.315" height="5.830" fill="#ffff00"/>
<rect x="422.190" y="287.320" width="6.315" height="5.830" fill="#ffff00"/>
<rect x="428.455" y="287.320" width="6.315" height="5.830" fill="#ffff00"/>
<rect x="434.720" y="287.320" width="6.315" height="5.830" fill="#ff0000"/>
<rect x="440.985" y="287.320" width="6.315" height="5.830" fill="#5c0004"/>
<rect x="134.000" y="293.100" width="6.315" height="5.830" fill="#00e0ff"/>
<rect x="140.265" y="293.100" width="6.315" height="5.830" fill="#00f0b4"/>
<rect x="146.530" y="293.100" width="6.315" height="5.830" fill="#00f0b4"/>
<rect x="152.795" y="293.100" width="6.315" height="5.830" fill="#00f0b4"/>
<rect x="159.060" y="293.100" width="6.315" height="5.830" fill="#00f0b4"/>
<rect x="165.325" y="293.100" width="6.315" height="5.830" fill="#00f0b4"/>
<rect x="171.590" y="293.100" width="6.315" height="5.830" fill="#00f0b4"/>
<rect x="177.855" y="293.100" width="6.315" height="5.830" fill="#00f0b4"/>
<rect x="184.120" y="293.100" width="6.315" height="5.830" fill="#00f0b4"/>
<rect x="190.385" y="293.100" width="6.315" height="5.830" fill="#00f0b4"/>
<rect x="196.650" y="293.100" width="6.315" height="5.830" fill="#00f0b4"/>
<rect x="202.915" y="293.100" width="6.315" height="5.830" fill="#00f0b4"/>
<rect x="209.180" y="293.100" width="6.315" height="5.830" fill="#00f0b4"/>
<rect x="215.445" y="293.100" width="6.315" height="5.830" fill="#00f0b4"/>
<rect x="221.710" y="293.100" width="6.315" height="5.830" fill="#00f0b4"/>
<rect x="227.975" y="293.100" width="6.315" height="5.830" fill="#00f0b4"/>
<rect x="234.240" y="293.100" width="6.315" height="5.830" fill="#00f0b4"/>
<rect x="240.505" y="293.100" width="6.315" height="5.830" fill="#00f0b4"/>
<rect x="246.770" y="293.100" width="6.315" height="5.830" fill="#00f0b4"/>
<rect x="253.035" y="293.100" width="6.315" height="5.830" fill="#00f0b4"/>
<rect x="259.300" y="293.100" width="6.315" height="5.830" fill="#00f0b4"/>
<rect x="265.565" y="293.100" width="6.315" height="5.830" fill="#00f0b4"/>
<rect x="271.830" y="293.100" width="6.315" height="5.830" fill="#10f078"/>
<rect x="278.095" y="293.100" width="6.315" height="5.830" fill="#90f000"/>
<rect x="284.360" y="293.100" width="6.315" height="5.830" fill="#10e830"/>
<rect x="290.625" y="293.100" width="6.315" height="5.830" fill="#10e830"/>
<rect x="296.890" y="293.100" width="6.315" height="5.830" fill="#10e830"/>
<rect x="303.155" y="293.100" width="6.315" height="5.830" fill="#10e830"/>
<rect x="309.420" y="293.100" width="6.315" height="5.830" fill="#10e830"/>
<rect x="315.685" y="293.100" width="6.315" height="5.830" fill="#10e830"/>
<rect x="321.950" y="293.100" width="6.315" height="5.830" fill="#ffe600"/>
<rect x="328.215" y="293.100" width="6.315" height="5.830" fill="#ffe600"/>
<rect x="334.480" y="293.100" width="6.315" height="5.830" fill="#ffe600"/>
<rect x="340.745" y="293.100" width="6.315" height="5.830" fill="#ffe600"/>
<rect x="347.010" y="293.100" width="6.315" height="5.830" fill="#ffe600"/>
<rect x="353.275" y="293.100" width="6.315" height="5.830" fill="#ffe600"/>
<rect x="359.540" y="293.100" width="6.315" height="5.830" fill="#ffe600"/>
<rect x="365.805" y="293.100" width="6.315" height="5.830" fill="#ffe600"/>
<rect x="372.070" y="293.100" width="6.315" height="5.830" fill="#ffe600"/>
<rect x="378.335" y="293.100" width="6.315" height="5.830" fill="#ffe600"/>
<rect x="384.600" y="293.100" width="6.315" height="5.830" fill="#ffe600"/>
<rect x="390.865" y="293.100" width="6.315" height="5.830" fill="#ffe600"/>
<rect x="397.130" y="293.100" width="6.315" height="5.830" fill="#ffe600"/>
<rect x="403.395" y="293.100" width="6.315" height="5.830" fill="#ffff00"/>
<rect x="409.660" y="293.100" width="6.315" height="5.830" fill="#ffff00"/>
<rect x="415.925" y="293.100" width="6.315" height="5.830" fill="#ffff00"/>
<rect x="422.190" y="293.100" width="6.315" height="5.830" fill="#ffff00"/>
<rect x="428.455" y="293.100" width="6.315" height="5.830" fill="#ffff00"/>
<rect x="434.720" y="293.100" width="6.315" height="5.830" fill="#ffff00"/>
<rect x="440.985" y="293.100" width="6.315" height="5.830" fill="#ffff00"/>
<rect x="447.250" y="293.100" width="6.315" height="5.830" fill="#5c0004"/>
<rect x="134.000" y="298.880" width="6.315" height="5.830" fill="#00e0ff"/>
<rect x="140.265" y="298.880" width="6.315" height="5.830" fill="#00f0b4"/>
<rect x="146.530" y="298.880" width="6.315" height="5.830" fill="#00f0b4"/>
<rect x="152.795" y="298.880" width="6.315" height="5.830" fill="#00f0b4"/>
<rect x="159.060" y="298.880" width="6.315" height="5.830" fill="#00f0b4"/>
<rect x="165.325" y="298.880" width="6.315" height="5.830" fill="#00f0b4"/>
<rect x="171.590" y="298.880" width="6.315" height="5.830" fill="#00f0b4"/>
<rect x="177.855" y="298.880" width="6.315" height="5.830" fill="#00f0b4"/>
<rect x="184.120" y="298.880" width="6.315" height="5.830" fill="#00f0b4"/>
<rect x="190.385" y="298.880" width="6.315" height="5.830" fill="#00f0b4"/>
<rect x="196.650" y="298.880" width="6.315" height="5.830" fill="#00f0b4"/>
<rect x="202.915" y="298.880" width="6.315" height="5.830" fill="#00f0b4"/>
<rect x="209.180" y="298.880" width="6.315" height="5.830" fill="#00f0b4"/>
<rect x="215.445" y="298.880" width="6.315" height="5.830" fill="#00f0b4"/>
<rect x="221.710" y="298.880" width="6.315" height="5.830" fill="#00f0b4"/>
<rect x="227.975" y="298.880" width="6.315" height="5.830" fill="#00f0b4"/>
<rect x="234.240" y="298.880" width="6.315" height="5.830" fill="#00f0b4"/>
<rect x="240.505" y="298.880" width="6.315" height="5.830" fill="#00f0b4"/>
<rect x="246.770" y="298.880" width="6.315" height="5.830" fill="#00f0b4"/>
<rect x="253.035" y="298.880" width="6.315" height="5.830" fill="#00f0b4"/>
<rect x="259.300" y="298.880" width="6.315" height="5.830" fill="#00f0b4"/>
<rect x="265.565" y="298.880" width="6.315" height="5.830" fill="#00f0b4"/>
<rect x="271.830" y="298.880" width="6.315" height="5.830" fill="#10f078"/>
<rect x="278.095" y="298.880" width="6.315" height="5.830" fill="#10e830"/>
<rect x="284.360" y="298.880" width="6.315" height="5.830" fill="#10e830"/>
<rect x="290.625" y="298.880" width="6.315" height="5.830" fill="#10e830"/>
<rect x="296.890" y="298.880" width="6.315" height="5.830" fill="#10e830"/>
<rect x="303.155" y="298.880" width="6.315" height="5.830" fill="#10e830"/>
<rect x="309.420" y="298.880" width="6.315" height="5.830" fill="#10e830"/>
<rect x="315.685" y="298.880" width="6.315" height="5.830" fill="#10e830"/>
<rect x="321.950" y="298.880" width="6.315" height="5.830" fill="#ffe600"/>
<rect x="328.215" y="298.880" width="6.315" height="5.830" fill="#ffe600"/>
<rect x="334.480" y="298.880" width="6.315" height="5.830" fill="#ffe600"/>
<rect x="340.745" y="298.880" width="6.315" height="5.830" fill="#ffe600"/>
<rect x="347.010" y="298.880" width="6.315" height="5.830" fill="#ffe600"/>
<rect x="353.275" y="298.880" width="6.315" height="5.830" fill="#ffe600"/>
<rect x="359.540" y="298.880" width="6.315" height="5.830" fill="#ffe600"/>
<rect x="365.805" y="298.880" width="6.315" height="5.830" fill="#ffe600"/>
<rect x="372.070" y="298.880" width="6.315" height="5.830" fill="#ffe600"/>
<rect x="378.335" y="298.880" width="6.315" height="5.830" fill="#ffe600"/>
<rect x="384.600" y="298.880" width="6.315" height="5.830" fill="#ffe600"/>
<rect x="390.865" y="298.880" width="6.315" height="5.830" fill="#ffe600"/>
<rect x="397.130" y="298.880" width="6.315" height="5.830" fill="#ffe600"/>
<rect x="403.395" y="298.880" width="6.315" height="5.830" fill="#ffff00"/>
<rect x="409.660" y="298.880" width="6.315" height="5.830" fill="#ffff00"/>
<rect x="415.925" y="298.880" width="6.315" height="5.830" fill="#ffff00"/>
<rect x="422.190" y="298.880" width="6.315" height="5.830" fill="#ffff00"/>
<rect x="428.455" y="298.880" width="6.315" height="5.830" fill="#ffff00"/>
<rect x="434.720" y="298.880" width="6.315" height="5.830" fill="#ffff00"/>
<rect x="440.985" y="298.880" width="6.315" height="5.830" fill="#ffff00"/>
<rect x="447.250" y="298.880" width="6.315" height="5.830" fill="#ff0000"/>
<rect x="453.515" y="298.880" width="6.315" height="5.830" fill="#5c0004"/>
<rect x="134.000" y="304.660" width="6.315" height="5.830" fill="#00e0ff"/>
<rect x="140.265" y="304.660" width="6.315" height="5.830" fill="#00f0b4"/>
<rect x="146.530" y="304.660" width="6.315" height="5.830" fill="#00f0b4"/>
<rect x="152.795" y="304.660" width="6.315" height="5.830" fill="#00f0b4"/>
<rect x="159.060" y="304.660" width="6.315" height="5.830" fill="#00f0b4"/>
<rect x="165.325" y="304.660" width="6.315" height="5.830" fill="#00f0b4"/>
<rect x="171.590" y="304.660" width="6.315" height="5.830" fill="#00f0b4"/>
<rect x="177.855" y="304.660" width="6.315" height="5.830" fill="#00f0b4"/>
<rect x="184.120" y="304.660" width="6.315" height="5.830" fill="#00f0b4"/>
<rect x="190.385" y="304.660" width="6.315" height="5.830" fill="#00f0b4"/>
<rect x="196.650" y="304.660" width="6.315" height="5.830" fill="#00f0b4"/>
<rect x="202.915" y="304.660" width="6.315" height="5.830" fill="#00f0b4"/>
<rect x="209.180" y="304.660" width="6.315" height="5.830" fill="#00f0b4"/>
<rect x="215.445" y="304.660" width="6.315" height="5.830" fill="#00f0b4"/>
<rect x="221.710" y="304.660" width="6.315" height="5.830" fill="#00f0b4"/>
<rect x="227.975" y="304.660" width="6.315" height="5.830" fill="#00f0b4"/>
<rect x="234.240" y="304.660" width="6.315" height="5.830" fill="#00f0b4"/>
<rect x="240.505" y="304.660" width="6.315" height="5.830" fill="#00f0b4"/>
<rect x="246.770" y="304.660" width="6.315" height="5.830" fill="#00f0b4"/>
<rect x="253.035" y="304.660" width="6.315" height="5.830" fill="#00f0b4"/>
<rect x="259.300" y="304.660" width="6.315" height="5.830" fill="#00f0b4"/>
<rect x="265.565" y="304.660" width="6.315" height="5.830" fill="#00f0b4"/>
<rect x="271.830" y="304.660" width="6.315" height="5.830" fill="#10f078"/>
<rect x="278.095" y="304.660" width="6.315" height="5.830" fill="#10e830"/>
<rect x="284.360" y="304.660" width="6.315" height="5.830" fill="#10e830"/>
<rect x="290.625" y="304.660" width="6.315" height="5.830" fill="#10e830"/>
<rect x="296.890" y="304.660" width="6.315" height="5.830" fill="#10e830"/>
<rect x="303.155" y="304.660" width="6.315" height="5.830" fill="#10e830"/>
<rect x="309.420" y="304.660" width="6.315" height="5.830" fill="#10e830"/>
<rect x="315.685" y="304.660" width="6.315" height="5.830" fill="#10e830"/>
<rect x="321.950" y="304.660" width="6.315" height="5.830" fill="#ffe600"/>
<rect x="328.215" y="304.660" width="6.315" height="5.830" fill="#ffe600"/>
<rect x="334.480" y="304.660" width="6.315" height="5.830" fill="#ffe600"/>
<rect x="340.745" y="304.660" width="6.315" height="5.830" fill="#ffe600"/>
<rect x="347.010" y="304.660" width="6.315" height="5.830" fill="#ffe600"/>
<rect x="353.275" y="304.660" width="6.315" height="5.830" fill="#ffe600"/>
<rect x="359.540" y="304.660" width="6.315" height="5.830" fill="#ffe600"/>
<rect x="365.805" y="304.660" width="6.315" height="5.830" fill="#ffe600"/>
<rect x="372.070" y="304.660" width="6.315" height="5.830" fill="#ffe600"/>
<rect x="378.335" y="304.660" width="6.315" height="5.830" fill="#ffe600"/>
<rect x="384.600" y="304.660" width="6.315" height="5.830" fill="#ffe600"/>
<rect x="390.865" y="304.660" width="6.315" height="5.830" fill="#ffe600"/>
<rect x="397.130" y="304.660" width="6.315" height="5.830" fill="#ffe600"/>
<rect x="403.395" y="304.660" width="6.315" height="5.830" fill="#ffff00"/>
<rect x="409.660" y="304.660" width="6.315" height="5.830" fill="#ffff00"/>
<rect x="415.925" y="304.660" width="6.315" height="5.830" fill="#ffff00"/>
<rect x="422.190" y="304.660" width="6.315" height="5.830" fill="#ffff00"/>
<rect x="428.455" y="304.660" width="6.315" height="5.830" fill="#ffff00"/>
<rect x="434.720" y="304.660" width="6.315" height="5.830" fill="#ffff00"/>
<rect x="440.985" y="304.660" width="6.315" height="5.830" fill="#ffff00"/>
<rect x="447.250" y="304.660" width="6.315" height="5.830" fill="#ff0000"/>
<rect x="453.515" y="304.660" width="6.315" height="5.830" fill="#ff4000"/>
<rect x="459.780" y="304.660" width="6.315" height="5.830" fill="#5c0004"/>
<rect x="134.000" y="310.440" width="6.315" height="5.830" fill="#10a8f0"/>
<rect x="140.265" y="310.440" width="6.315" height="5.830" fill="#00d8ff"/>
<rect x="146.530" y="310.440" width="6.315" height="5.830" fill="#00d8ff"/>
<rect x="152.795" y="310.440" width="6.315" height="5.830" fill="#00d8ff"/>
<rect x="159.060" y="310.440" width="6.315" height="5.830" fill="#00d8ff"/>
<rect x="165.325" y="310.440" width="6.315" height="5.830" fill="#00d8ff"/>
<rect x="171.590" y="310.440" width="6.315" height="5.830" fill="#00d8ff"/>
<rect x="177.855" y="310.440" width="6.315" height="5.830" fill="#00d8ff"/>
<rect x="184.120" y="310.440" width="6.315" height="5.830" fill="#00d8ff"/>
<rect x="190.385" y="310.440" width="6.315" height="5.830" fill="#00d8ff"/>
<rect x="196.650" y="310.440" width="6.315" height="5.830" fill="#00d8ff"/>
<rect x="202.915" y="310.440" width="6.315" height="5.830" fill="#00d8ff"/>
<rect x="209.180" y="310.440" width="6.315" height="5.830" fill="#00d8ff"/>
<rect x="215.445" y="310.440" width="6.315" height="5.830" fill="#00d8ff"/>
<rect x="221.710" y="310.440" width="6.315" height="5.830" fill="#00d8ff"/>
<rect x="227.975" y="310.440" width="6.315" height="5.830" fill="#00d8ff"/>
<rect x="234.240" y="310.440" width="6.315" height="5.830" fill="#00d8ff"/>
<rect x="240.505" y="310.440" width="6.315" height="5.830" fill="#00d8ff"/>
<rect x="246.770" y="310.440" width="6.315" height="5.830" fill="#00d8ff"/>
<rect x="253.035" y="310.440" width="6.315" height="5.830" fill="#00d8ff"/>
<rect x="259.300" y="310.440" width="6.315" height="5.830" fill="#00d8ff"/>
<rect x="265.565" y="310.440" width="6.315" height="5.830" fill="#00d8ff"/>
<rect x="271.830" y="310.440" width="6.315" height="5.830" fill="#1070f0"/>
<rect x="278.095" y="310.440" width="6.315" height="5.830" fill="#00e0ff"/>
<rect x="284.360" y="310.440" width="6.315" height="5.830" fill="#00e0ff"/>
<rect x="290.625" y="310.440" width="6.315" height="5.830" fill="#00e0ff"/>
<rect x="296.890" y="310.440" width="6.315" height="5.830" fill="#00e0ff"/>
<rect x="303.155" y="310.440" width="6.315" height="5.830" fill="#00e0ff"/>
<rect x="309.420" y="310.440" width="6.315" height="5.830" fill="#00e0ff"/>
<rect x="315.685" y="310.440" width="6.315" height="5.830" fill="#00e0ff"/>
<rect x="321.950" y="310.440" width="6.315" height="5.830" fill="#00e0ff"/>
<rect x="328.215" y="310.440" width="6.315" height="5.830" fill="#00e0ff"/>
<rect x="334.480" y="310.440" width="6.315" height="5.830" fill="#00e0ff"/>
<rect x="340.745" y="310.440" width="6.315" height="5.830" fill="#00e0ff"/>
<rect x="347.010" y="310.440" width="6.315" height="5.830" fill="#00e0ff"/>
<rect x="353.275" y="310.440" width="6.315" height="5.830" fill="#00e0ff"/>
<rect x="359.540" y="310.440" width="6.315" height="5.830" fill="#00e0ff"/>
<rect x="365.805" y="310.440" width="6.315" height="5.830" fill="#00e0ff"/>
<rect x="372.070" y="310.440" width="6.315" height="5.830" fill="#00e0ff"/>
<rect x="378.335" y="310.440" width="6.315" height="5.830" fill="#00e0ff"/>
<rect x="384.600" y="310.440" width="6.315" height="5.830" fill="#00e0ff"/>
<rect x="390.865" y="310.440" width="6.315" height="5.830" fill="#00e0ff"/>
<rect x="397.130" y="310.440" width="6.315" height="5.830" fill="#00e0ff"/>
<rect x="403.395" y="310.440" width="6.315" height="5.830" fill="#00e0ff"/>
<rect x="409.660" y="310.440" width="6.315" height="5.830" fill="#00e0ff"/>
<rect x="415.925" y="310.440" width="6.315" height="5.830" fill="#00e0ff"/>
<rect x="422.190" y="310.440" width="6.315" height="5.830" fill="#00e0ff"/>
<rect x="428.455" y="310.440" width="6.315" height="5.830" fill="#00e0ff"/>
<rect x="434.720" y="310.440" width="6.315" height="5.830" fill="#00e0ff"/>
<rect x="440.985" y="310.440" width="6.315" height="5.830" fill="#00e0ff"/>
<rect x="447.250" y="310.440" width="6.315" height="5.830" fill="#00e0ff"/>
<rect x="453.515" y="310.440" width="6.315" height="5.830" fill="#00e0ff"/>
<rect x="459.780" y="310.440" width="6.315" height="5.830" fill="#00e0ff"/>
<rect x="466.045" y="310.440" width="6.315" height="5.830" fill="#5c0004"/>
<rect x="134.000" y="316.220" width="6.315" height="5.830" fill="#10a8f0"/>
<rect x="140.265" y="316.220" width="6.315" height="5.830" fill="#08c0f4"/>
<rect x="146.530" y="316.220" width="6.315" height="5.830" fill="#08c0f4"/>
<rect x="152.795" y="316.220" width="6.315" height="5.830" fill="#08c0f4"/>
<rect x="159.060" y="316.220" width="6.315" height="5.830" fill="#08c0f4"/>
<rect x="165.325" y="316.220" width="6.315" height="5.830" fill="#08c0f4"/>
<rect x="171.590" y="316.220" width="6.315" height="5.830" fill="#08c0f4"/>
<rect x="177.855" y="316.220" width="6.315" height="5.830" fill="#08c0f4"/>
<rect x="184.120" y="316.220" width="6.315" height="5.830" fill="#08c0f4"/>
<rect x="190.385" y="316.220" width="6.315" height="5.830" fill="#08c0f4"/>
<rect x="196.650" y="316.220" width="6.315" height="5.830" fill="#08c0f4"/>
<rect x="202.915" y="316.220" width="6.315" height="5.830" fill="#08c0f4"/>
<rect x="209.180" y="316.220" width="6.315" height="5.830" fill="#08c0f4"/>
<rect x="215.445" y="316.220" width="6.315" height="5.830" fill="#08c0f4"/>
<rect x="221.710" y="316.220" width="6.315" height="5.830" fill="#08c0f4"/>
<rect x="227.975" y="316.220" width="6.315" height="5.830" fill="#08c0f4"/>
<rect x="234.240" y="316.220" width="6.315" height="5.830" fill="#08c0f4"/>
<rect x="240.505" y="316.220" width="6.315" height="5.830" fill="#08c0f4"/>
<rect x="246.770" y="316.220" width="6.315" height="5.830" fill="#08c0f4"/>
<rect x="253.035" y="316.220" width="6.315" height="5.830" fill="#08c0f4"/>
<rect x="259.300" y="316.220" width="6.315" height="5.830" fill="#08c0f4"/>
<rect x="265.565" y="316.220" width="6.315" height="5.830" fill="#08c0f4"/>
<rect x="271.830" y="316.220" width="6.315" height="5.830" fill="#1070f0"/>
<rect x="278.095" y="316.220" width="6.315" height="5.830" fill="#00e0ff"/>
<rect x="284.360" y="316.220" width="6.315" height="5.830" fill="#00e0ff"/>
<rect x="290.625" y="316.220" width="6.315" height="5.830" fill="#00e0ff"/>
<rect x="296.890" y="316.220" width="6.315" height="5.830" fill="#00e0ff"/>
<rect x="303.155" y="316.220" width="6.315" height="5.830" fill="#00e0ff"/>
<rect x="309.420" y="316.220" width="6.315" height="5.830" fill="#00e0ff"/>
<rect x="315.685" y="316.220" width="6.315" height="5.830" fill="#00e0ff"/>
<rect x="321.950" y="316.220" width="6.315" height="5.830" fill="#00e0ff"/>
<rect x="328.215" y="316.220" width="6.315" height="5.830" fill="#00e0ff"/>
<rect x="334.480" y="316.220" width="6.315" height="5.830" fill="#00e0ff"/>
<rect x="340.745" y="316.220" width="6.315" height="5.830" fill="#00e0ff"/>
<rect x="347.010" y="316.220" width="6.315" height="5.830" fill="#00e0ff"/>
<rect x="353.275" y="316.220" width="6.315" height="5.830" fill="#00e0ff"/>
<rect x="359.540" y="316.220" width="6.315" height="5.830" fill="#00e0ff"/>
<rect x="365.805" y="316.220" width="6.315" height="5.830" fill="#00e0ff"/>
<rect x="372.070" y="316.220" width="6.315" height="5.830" fill="#00e0ff"/>
<rect x="378.335" y="316.220" width="6.315" height="5.830" fill="#00e0ff"/>
<rect x="384.600" y="316.220" width="6.315" height="5.830" fill="#00e0ff"/>
<rect x="390.865" y="316.220" width="6.315" height="5.830" fill="#00e0ff"/>
<rect x="397.130" y="316.220" width="6.315" height="5.830" fill="#00e0ff"/>
<rect x="403.395" y="316.220" width="6.315" height="5.830" fill="#00e0ff"/>
<rect x="409.660" y="316.220" width="6.315" height="5.830" fill="#00e0ff"/>
<rect x="415.925" y="316.220" width="6.315" height="5.830" fill="#00e0ff"/>
<rect x="422.190" y="316.220" width="6.315" height="5.830" fill="#00e0ff"/>
<rect x="428.455" y="316.220" width="6.315" height="5.830" fill="#00e0ff"/>
<rect x="434.720" y="316.220" width="6.315" height="5.830" fill="#00e0ff"/>
<rect x="440.985" y="316.220" width="6.315" height="5.830" fill="#00e0ff"/>
<rect x="447.250" y="316.220" width="6.315" height="5.830" fill="#00e0ff"/>
<rect x="453.515" y="316.220" width="6.315" height="5.830" fill="#00e0ff"/>
<rect x="459.780" y="316.220" width="6.315" height="5.830" fill="#00e0ff"/>
<rect x="466.045" y="316.220" width="6.315" height="5.830" fill="#10f078"/>
<rect x="472.310" y="316.220" width="6.315" height="5.830" fill="#5c0004"/>
<rect x="134.000" y="322.000" width="6.315" height="5.830" fill="#00e0ff"/>
<rect x="140.265" y="322.000" width="6.315" height="5.830" fill="#00e0ff"/>
<rect x="146.530" y="322.000" width="6.315" height="5.830" fill="#00e0ff"/>
<rect x="152.795" y="322.000" width="6.315" height="5.830" fill="#00e0ff"/>
<rect x="159.060" y="322.000" width="6.315" height="5.830" fill="#00e0ff"/>
<rect x="165.325" y="322.000" width="6.315" height="5.830" fill="#00e0ff"/>
<rect x="171.590" y="322.000" width="6.315" height="5.830" fill="#00e0ff"/>
<rect x="177.855" y="322.000" width="6.315" height="5.830" fill="#00e0ff"/>
<rect x="184.120" y="322.000" width="6.315" height="5.830" fill="#00e0ff"/>
<rect x="190.385" y="322.000" width="6.315" height="5.830" fill="#00e0ff"/>
<rect x="196.650" y="322.000" width="6.315" height="5.830" fill="#00e0ff"/>
<rect x="202.915" y="322.000" width="6.315" height="5.830" fill="#00e0ff"/>
<rect x="209.180" y="322.000" width="6.315" height="5.830" fill="#00e0ff"/>
<rect x="215.445" y="322.000" width="6.315" height="5.830" fill="#00e0ff"/>
<rect x="221.710" y="322.000" width="6.315" height="5.830" fill="#00e0ff"/>
<rect x="227.975" y="322.000" width="6.315" height="5.830" fill="#00e0ff"/>
<rect x="234.240" y="322.000" width="6.315" height="5.830" fill="#00e0ff"/>
<rect x="240.505" y="322.000" width="6.315" height="5.830" fill="#00e0ff"/>
<rect x="246.770" y="322.000" width="6.315" height="5.830" fill="#00e0ff"/>
<rect x="253.035" y="322.000" width="6.315" height="5.830" fill="#00e0ff"/>
<rect x="259.300" y="322.000" width="6.315" height="5.830" fill="#00e0ff"/>
<rect x="265.565" y="322.000" width="6.315" height="5.830" fill="#00e0ff"/>
<rect x="271.830" y="322.000" width="6.315" height="5.830" fill="#1070f0"/>
<rect x="278.095" y="322.000" width="6.315" height="5.830" fill="#00e0ff"/>
<rect x="284.360" y="322.000" width="6.315" height="5.830" fill="#00e0ff"/>
<rect x="290.625" y="322.000" width="6.315" height="5.830" fill="#00e0ff"/>
<rect x="296.890" y="322.000" width="6.315" height="5.830" fill="#00e0ff"/>
<rect x="303.155" y="322.000" width="6.315" height="5.830" fill="#00e0ff"/>
<rect x="309.420" y="322.000" width="6.315" height="5.830" fill="#00e0ff"/>
<rect x="315.685" y="322.000" width="6.315" height="5.830" fill="#00e0ff"/>
<rect x="321.950" y="322.000" width="6.315" height="5.830" fill="#00e0ff"/>
<rect x="328.215" y="322.000" width="6.315" height="5.830" fill="#00e0ff"/>
<rect x="334.480" y="322.000" width="6.315" height="5.830" fill="#00e0ff"/>
<rect x="340.745" y="322.000" width="6.315" height="5.830" fill="#00e0ff"/>
<rect x="347.010" y="322.000" width="6.315" height="5.830" fill="#00e0ff"/>
<rect x="353.275" y="322.000" width="6.315" height="5.830" fill="#00e0ff"/>
<rect x="359.540" y="322.000" width="6.315" height="5.830" fill="#00e0ff"/>
<rect x="365.805" y="322.000" width="6.315" height="5.830" fill="#00e0ff"/>
<rect x="372.070" y="322.000" width="6.315" height="5.830" fill="#00e0ff"/>
<rect x="378.335" y="322.000" width="6.315" height="5.830" fill="#00e0ff"/>
<rect x="384.600" y="322.000" width="6.315" height="5.830" fill="#00e0ff"/>
<rect x="390.865" y="322.000" width="6.315" height="5.830" fill="#00e0ff"/>
<rect x="397.130" y="322.000" width="6.315" height="5.830" fill="#00e0ff"/>
<rect x="403.395" y="322.000" width="6.315" height="5.830" fill="#00e0ff"/>
<rect x="409.660" y="322.000" width="6.315" height="5.830" fill="#00e0ff"/>
<rect x="415.925" y="322.000" width="6.315" height="5.830" fill="#00e0ff"/>
<rect x="422.190" y="322.000" width="6.315" height="5.830" fill="#00e0ff"/>
<rect x="428.455" y="322.000" width="6.315" height="5.830" fill="#00e0ff"/>
<rect x="434.720" y="322.000" width="6.315" height="5.830" fill="#00e0ff"/>
<rect x="440.985" y="322.000" width="6.315" height="5.830" fill="#00e0ff"/>
<rect x="447.250" y="322.000" width="6.315" height="5.830" fill="#00e0ff"/>
<rect x="453.515" y="322.000" width="6.315" height="5.830" fill="#00e0ff"/>
<rect x="459.780" y="322.000" width="6.315" height="5.830" fill="#00e0ff"/>
<rect x="466.045" y="322.000" width="6.315" height="5.830" fill="#10f078"/>
<rect x="472.310" y="322.000" width="6.315" height="5.830" fill="#ffff00"/>
<rect x="478.575" y="322.000" width="6.315" height="5.830" fill="#5c0004"/>
<rect x="134.000" y="327.780" width="6.315" height="5.830" fill="#00e0ff"/>
<rect x="140.265" y="327.780" width="6.315" height="5.830" fill="#00d8ff"/>
<rect x="146.530" y="327.780" width="6.315" height="5.830" fill="#00d8ff"/>
<rect x="152.795" y="327.780" width="6.315" height="5.830" fill="#00d8ff"/>
<rect x="159.060" y="327.780" width="6.315" height="5.830" fill="#00d8ff"/>
<rect x="165.325" y="327.780" width="6.315" height="5.830" fill="#00d8ff"/>
<rect x="171.590" y="327.780" width="6.315" height="5.830" fill="#00d8ff"/>
<rect x="177.855" y="327.780" width="6.315" height="5.830" fill="#00d8ff"/>
<rect x="184.120" y="327.780" width="6.315" height="5.830" fill="#00d8ff"/>
<rect x="190.385" y="327.780" width="6.315" height="5.830" fill="#00d8ff"/>
<rect x="196.650" y="327.780" width="6.315" height="5.830" fill="#00d8ff"/>
<rect x="202.915" y="327.780" width="6.315" height="5.830" fill="#00d8ff"/>
<rect x="209.180" y="327.780" width="6.315" height="5.830" fill="#00d8ff"/>
<rect x="215.445" y="327.780" width="6.315" height="5.830" fill="#00d8ff"/>
<rect x="221.710" y="327.780" width="6.315" height="5.830" fill="#00d8ff"/>
<rect x="227.975" y="327.780" width="6.315" height="5.830" fill="#00d8ff"/>
<rect x="234.240" y="327.780" width="6.315" height="5.830" fill="#00d8ff"/>
<rect x="240.505" y="327.780" width="6.315" height="5.830" fill="#00d8ff"/>
<rect x="246.770" y="327.780" width="6.315" height="5.830" fill="#00d8ff"/>
<rect x="253.035" y="327.780" width="6.315" height="5.830" fill="#00d8ff"/>
<rect x="259.300" y="327.780" width="6.315" height="5.830" fill="#00d8ff"/>
<rect x="265.565" y="327.780" width="6.315" height="5.830" fill="#00d8ff"/>
<rect x="271.830" y="327.780" width="6.315" height="5.830" fill="#1070f0"/>
<rect x="278.095" y="327.780" width="6.315" height="5.830" fill="#00e0ff"/>
<rect x="284.360" y="327.780" width="6.315" height="5.830" fill="#00e0ff"/>
<rect x="290.625" y="327.780" width="6.315" height="5.830" fill="#00e0ff"/>
<rect x="296.890" y="327.780" width="6.315" height="5.830" fill="#00e0ff"/>
<rect x="303.155" y="327.780" width="6.315" height="5.830" fill="#00e0ff"/>
<rect x="309.420" y="327.780" width="6.315" height="5.830" fill="#00e0ff"/>
<rect x="315.685" y="327.780" width="6.315" height="5.830" fill="#00e0ff"/>
<rect x="321.950" y="327.780" width="6.315" height="5.830" fill="#00e0ff"/>
<rect x="328.215" y="327.780" width="6.315" height="5.830" fill="#00e0ff"/>
<rect x="334.480" y="327.780" width="6.315" height="5.830" fill="#00e0ff"/>
<rect x="340.745" y="327.780" width="6.315" height="5.830" fill="#00e0ff"/>
<rect x="347.010" y="327.780" width="6.315" height="5.830" fill="#00e0ff"/>
<rect x="353.275" y="327.780" width="6.315" height="5.830" fill="#00e0ff"/>
<rect x="359.540" y="327.780" width="6.315" height="5.830" fill="#00e0ff"/>
<rect x="365.805" y="327.780" width="6.315" height="5.830" fill="#00e0ff"/>
<rect x="372.070" y="327.780" width="6.315" height="5.830" fill="#00e0ff"/>
<rect x="378.335" y="327.780" width="6.315" height="5.830" fill="#00e0ff"/>
<rect x="384.600" y="327.780" width="6.315" height="5.830" fill="#00e0ff"/>
<rect x="390.865" y="327.780" width="6.315" height="5.830" fill="#00e0ff"/>
<rect x="397.130" y="327.780" width="6.315" height="5.830" fill="#00e0ff"/>
<rect x="403.395" y="327.780" width="6.315" height="5.830" fill="#00e0ff"/>
<rect x="409.660" y="327.780" width="6.315" height="5.830" fill="#00e0ff"/>
<rect x="415.925" y="327.780" width="6.315" height="5.830" fill="#00e0ff"/>
<rect x="422.190" y="327.780" width="6.315" height="5.830" fill="#00e0ff"/>
<rect x="428.455" y="327.780" width="6.315" height="5.830" fill="#00e0ff"/>
<rect x="434.720" y="327.780" width="6.315" height="5.830" fill="#00e0ff"/>
<rect x="440.985" y="327.780" width="6.315" height="5.830" fill="#00e0ff"/>
<rect x="447.250" y="327.780" width="6.315" height="5.830" fill="#00e0ff"/>
<rect x="453.515" y="327.780" width="6.315" height="5.830" fill="#00e0ff"/>
<rect x="459.780" y="327.780" width="6.315" height="5.830" fill="#00e0ff"/>
<rect x="466.045" y="327.780" width="6.315" height="5.830" fill="#10e830"/>
<rect x="472.310" y="327.780" width="6.315" height="5.830" fill="#ffff00"/>
<rect x="478.575" y="327.780" width="6.315" height="5.830" fill="#ffff00"/>
<rect x="484.840" y="327.780" width="6.315" height="5.830" fill="#5c0004"/>
<rect x="134.000" y="333.560" width="6.315" height="5.830" fill="#00e0ff"/>
<rect x="140.265" y="333.560" width="6.315" height="5.830" fill="#10a8f0"/>
<rect x="146.530" y="333.560" width="6.315" height="5.830" fill="#10a8f0"/>
<rect x="152.795" y="333.560" width="6.315" height="5.830" fill="#10a8f0"/>
<rect x="159.060" y="333.560" width="6.315" height="5.830" fill="#10a8f0"/>
<rect x="165.325" y="333.560" width="6.315" height="5.830" fill="#10a8f0"/>
<rect x="171.590" y="333.560" width="6.315" height="5.830" fill="#10a8f0"/>
<rect x="177.855" y="333.560" width="6.315" height="5.830" fill="#10a8f0"/>
<rect x="184.120" y="333.560" width="6.315" height="5.830" fill="#10a8f0"/>
<rect x="190.385" y="333.560" width="6.315" height="5.830" fill="#10a8f0"/>
<rect x="196.650" y="333.560" width="6.315" height="5.830" fill="#10a8f0"/>
<rect x="202.915" y="333.560" width="6.315" height="5.830" fill="#10a8f0"/>
<rect x="209.180" y="333.560" width="6.315" height="5.830" fill="#10a8f0"/>
<rect x="215.445" y="333.560" width="6.315" height="5.830" fill="#10a8f0"/>
<rect x="221.710" y="333.560" width="6.315" height="5.830" fill="#10a8f0"/>
<rect x="227.975" y="333.560" width="6.315" height="5.830" fill="#10a8f0"/>
<rect x="234.240" y="333.560" width="6.315" height="5.830" fill="#10a8f0"/>
<rect x="240.505" y="333.560" width="6.315" height="5.830" fill="#10a8f0"/>
<rect x="246.770" y="333.560" width="6.315" height="5.830" fill="#10a8f0"/>
<rect x="253.035" y="333.560" width="6.315" height="5.830" fill="#10a8f0"/>
<rect x="259.300" y="333.560" width="6.315" height="5.830" fill="#10a8f0"/>
<rect x="265.565" y="333.560" width="6.315" height="5.830" fill="#10a8f0"/>
<rect x="271.830" y="333.560" width="6.315" height="5.830" fill="#1070f0"/>
<rect x="278.095" y="333.560" width="6.315" height="5.830" fill="#10a8f0"/>
<rect x="284.360" y="333.560" width="6.315" height="5.830" fill="#10a8f0"/>
<rect x="290.625" y="333.560" width="6.315" height="5.830" fill="#10a8f0"/>
<rect x="296.890" y="333.560" width="6.315" height="5.830" fill="#10a8f0"/>
<rect x="303.155" y="333.560" width="6.315" height="5.830" fill="#10a8f0"/>
<rect x="309.420" y="333.560" width="6.315" height="5.830" fill="#10a8f0"/>
<rect x="315.685" y="333.560" width="6.315" height="5.830" fill="#10a8f0"/>
<rect x="321.950" y="333.560" width="6.315" height="5.830" fill="#10a8f0"/>
<rect x="328.215" y="333.560" width="6.315" height="5.830" fill="#10a8f0"/>
<rect x="334.480" y="333.560" width="6.315" height="5.830" fill="#10a8f0"/>
<rect x="340.745" y="333.560" width="6.315" height="5.830" fill="#10a8f0"/>
<rect x="347.010" y="333.560" width="6.315" height="5.830" fill="#10a8f0"/>
<rect x="353.275" y="333.560" width="6.315" height="5.830" fill="#10a8f0"/>
<rect x="359.540" y="333.560" width="6.315" height="5.830" fill="#10a8f0"/>
<rect x="365.805" y="333.560" width="6.315" height="5.830" fill="#10a8f0"/>
<rect x="372.070" y="333.560" width="6.315" height="5.830" fill="#10a8f0"/>
<rect x="378.335" y="333.560" width="6.315" height="5.830" fill="#10a8f0"/>
<rect x="384.600" y="333.560" width="6.315" height="5.830" fill="#10a8f0"/>
<rect x="390.865" y="333.560" width="6.315" height="5.830" fill="#10a8f0"/>
<rect x="397.130" y="333.560" width="6.315" height="5.830" fill="#10a8f0"/>
<rect x="403.395" y="333.560" width="6.315" height="5.830" fill="#10a8f0"/>
<rect x="409.660" y="333.560" width="6.315" height="5.830" fill="#10a8f0"/>
<rect x="415.925" y="333.560" width="6.315" height="5.830" fill="#10a8f0"/>
<rect x="422.190" y="333.560" width="6.315" height="5.830" fill="#10a8f0"/>
<rect x="428.455" y="333.560" width="6.315" height="5.830" fill="#10a8f0"/>
<rect x="434.720" y="333.560" width="6.315" height="5.830" fill="#10a8f0"/>
<rect x="440.985" y="333.560" width="6.315" height="5.830" fill="#10a8f0"/>
<rect x="447.250" y="333.560" width="6.315" height="5.830" fill="#10a8f0"/>
<rect x="453.515" y="333.560" width="6.315" height="5.830" fill="#10a8f0"/>
<rect x="459.780" y="333.560" width="6.315" height="5.830" fill="#10a8f0"/>
<rect x="466.045" y="333.560" width="6.315" height="5.830" fill="#10f078"/>
<rect x="472.310" y="333.560" width="6.315" height="5.830" fill="#c8f000"/>
<rect x="478.575" y="333.560" width="6.315" height="5.830" fill="#c8f000"/>
<rect x="484.840" y="333.560" width="6.315" height="5.830" fill="#ffff00"/>
<rect x="491.105" y="333.560" width="6.315" height="5.830" fill="#5c0004"/>
<rect x="134.000" y="339.340" width="6.315" height="5.830" fill="#000080"/>
<rect x="140.265" y="339.340" width="6.315" height="5.830" fill="#0010f0"/>
<rect x="146.530" y="339.340" width="6.315" height="5.830" fill="#0010f0"/>
<rect x="152.795" y="339.340" width="6.315" height="5.830" fill="#0010f0"/>
<rect x="159.060" y="339.340" width="6.315" height="5.830" fill="#0010f0"/>
<rect x="165.325" y="339.340" width="6.315" height="5.830" fill="#0010f0"/>
<rect x="171.590" y="339.340" width="6.315" height="5.830" fill="#0010f0"/>
<rect x="177.855" y="339.340" width="6.315" height="5.830" fill="#0010f0"/>
<rect x="184.120" y="339.340" width="6.315" height="5.830" fill="#0010f0"/>
<rect x="190.385" y="339.340" width="6.315" height="5.830" fill="#0010f0"/>
<rect x="196.650" y="339.340" width="6.315" height="5.830" fill="#0010f0"/>
<rect x="202.915" y="339.340" width="6.315" height="5.830" fill="#0010f0"/>
<rect x="209.180" y="339.340" width="6.315" height="5.830" fill="#0010f0"/>
<rect x="215.445" y="339.340" width="6.315" height="5.830" fill="#0010f0"/>
<rect x="221.710" y="339.340" width="6.315" height="5.830" fill="#0010f0"/>
<rect x="227.975" y="339.340" width="6.315" height="5.830" fill="#0010f0"/>
<rect x="234.240" y="339.340" width="6.315" height="5.830" fill="#0010f0"/>
<rect x="240.505" y="339.340" width="6.315" height="5.830" fill="#0010f0"/>
<rect x="246.770" y="339.340" width="6.315" height="5.830" fill="#0010f0"/>
<rect x="253.035" y="339.340" width="6.315" height="5.830" fill="#0010f0"/>
<rect x="259.300" y="339.340" width="6.315" height="5.830" fill="#0010f0"/>
<rect x="265.565" y="339.340" width="6.315" height="5.830" fill="#0010f0"/>
<rect x="271.830" y="339.340" width="6.315" height="5.830" fill="#0010f0"/>
<rect x="278.095" y="339.340" width="6.315" height="5.830" fill="#0010f0"/>
<rect x="284.360" y="339.340" width="6.315" height="5.830" fill="#0010f0"/>
<rect x="290.625" y="339.340" width="6.315" height="5.830" fill="#0010f0"/>
<rect x="296.890" y="339.340" width="6.315" height="5.830" fill="#0010f0"/>
<rect x="303.155" y="339.340" width="6.315" height="5.830" fill="#0010f0"/>
<rect x="309.420" y="339.340" width="6.315" height="5.830" fill="#0010f0"/>
<rect x="315.685" y="339.340" width="6.315" height="5.830" fill="#0010f0"/>
<rect x="321.950" y="339.340" width="6.315" height="5.830" fill="#0010f0"/>
<rect x="328.215" y="339.340" width="6.315" height="5.830" fill="#0010f0"/>
<rect x="334.480" y="339.340" width="6.315" height="5.830" fill="#0010f0"/>
<rect x="340.745" y="339.340" width="6.315" height="5.830" fill="#0010f0"/>
<rect x="347.010" y="339.340" width="6.315" height="5.830" fill="#0010f0"/>
<rect x="353.275" y="339.340" width="6.315" height="5.830" fill="#0010f0"/>
<rect x="359.540" y="339.340" width="6.315" height="5.830" fill="#0010f0"/>
<rect x="365.805" y="339.340" width="6.315" height="5.830" fill="#0010f0"/>
<rect x="372.070" y="339.340" width="6.315" height="5.830" fill="#0010f0"/>
<rect x="378.335" y="339.340" width="6.315" height="5.830" fill="#0010f0"/>
<rect x="384.600" y="339.340" width="6.315" height="5.830" fill="#0010f0"/>
<rect x="390.865" y="339.340" width="6.315" height="5.830" fill="#0010f0"/>
<rect x="397.130" y="339.340" width="6.315" height="5.830" fill="#0010f0"/>
<rect x="403.395" y="339.340" width="6.315" height="5.830" fill="#0010f0"/>
<rect x="409.660" y="339.340" width="6.315" height="5.830" fill="#0010f0"/>
<rect x="415.925" y="339.340" width="6.315" height="5.830" fill="#0010f0"/>
<rect x="422.190" y="339.340" width="6.315" height="5.830" fill="#0010f0"/>
<rect x="428.455" y="339.340" width="6.315" height="5.830" fill="#0010f0"/>
<rect x="434.720" y="339.340" width="6.315" height="5.830" fill="#0010f0"/>
<rect x="440.985" y="339.340" width="6.315" height="5.830" fill="#0010f0"/>
<rect x="447.250" y="339.340" width="6.315" height="5.830" fill="#0010f0"/>
<rect x="453.515" y="339.340" width="6.315" height="5.830" fill="#0010f0"/>
<rect x="459.780" y="339.340" width="6.315" height="5.830" fill="#0010f0"/>
<rect x="466.045" y="339.340" width="6.315" height="5.830" fill="#0000b0"/>
<rect x="472.310" y="339.340" width="6.315" height="5.830" fill="#0010f0"/>
<rect x="478.575" y="339.340" width="6.315" height="5.830" fill="#0010f0"/>
<rect x="484.840" y="339.340" width="6.315" height="5.830" fill="#0010f0"/>
<rect x="491.105" y="339.340" width="6.315" height="5.830" fill="#0010f0"/>
<rect x="497.370" y="339.340" width="6.315" height="5.830" fill="#5c0004"/>
<path d="M134.000 4.100H140.265M134.000 9.880H146.530M134.000 15.660H152.795M134.000 21.440H159.060M134.000 27.220H165.325M134.000 33.000H171.590M134.000 38.780H177.855M134.000 44.560H184.120M134.000 50.340H190.385M134.000 56.120H196.650M134.000 61.900H202.915M134.000 67.680H209.180M134.000 73.460H215.445M134.000 79.240H221.710M134.000 85.020H227.975M134.000 90.800H234.240M134.000 96.580H240.505M134.000 102.360H246.770M134.000 108.140H253.035M134.000 113.920H259.300M134.000 119.700H265.565M134.000 125.480H271.830M134.000 131.260H278.095M134.000 137.040H284.360M134.000 142.820H290.625M134.000 148.600H296.890M134.000 154.380H303.155M134.000 160.160H309.420M134.000 165.940H315.685M134.000 171.720H321.950M134.000 177.500H328.215M134.000 183.280H334.480M134.000 189.060H340.745M134.000 194.840H347.010M134.000 200.620H353.275M134.000 206.400H359.540M134.000 212.180H365.805M134.000 217.960H372.070M134.000 223.740H378.335M134.000 229.520H384.600M134.000 235.300H390.865M134.000 241.080H397.130M134.000 246.860H403.395M134.000 252.640H409.660M134.000 258.420H415.925M134.000 264.200H422.190M134.000 269.980H428.455M134.000 275.760H434.720M134.000 281.540H440.985M134.000 287.320H447.250M134.000 293.100H453.515M134.000 298.880H459.780M134.000 304.660H466.045M134.000 310.440H472.310M134.000 316.220H478.575M134.000 322.000H484.840M134.000 327.780H491.105M134.000 333.560H497.370M134.000 339.340H503.635M134.000 345.120H503.635M140.265 4.100V345.120M146.530 9.880V345.120M152.795 15.660V345.120M159.060 21.440V345.120M165.325 27.220V345.120M171.590 33.000V345.120M177.855 38.780V345.120M184.120 44.560V345.120M190.385 50.340V345.120M196.650 56.120V345.120M202.915 61.900V345.120M209.180 67.680V345.120M215.445 73.460V345.120M221.710 79.240V345.120M227.975 85.020V345.120M234.240 90.800V345.120M240.505 96.580V345.120M246.770 102.360V345.120M253.035 108.140V345.120M259.300 113.920V345.120M265.565 119.700V345.120M271.830 125.480V345.120M278.095 131.260V345.120M284.360 137.040V345.120M290.625 142.820V345.120M296.890 148.600V345.120M303.155 154.380V345.120M309.420 160.160V345.120M315.685 165.940V345.120M321.950 171.720V345.120M328.215 177.500V345.120M334.480 183.280V345.120M340.745 189.060V345.120M347.010 194.840V345.120M353.275 200.620V345.120M359.540 206.400V345.120M365.805 212.180V345.120M372.070 217.960V345.120M378.335 223.740V345.120M384.600 229.520V345.120M390.865 235.300V345.120M397.130 241.080V345.120M403.395 246.860V345.120M409.660 252.640V345.120M415.925 258.420V345.120M422.190 264.200V345.120M428.455 269.980V345.120M434.720 275.760V345.120M440.985 281.540V345.120M447.250 287.320V345.120M453.515 293.100V345.120M459.780 298.880V345.120M466.045 304.660V345.120M472.310 310.440V345.120M478.575 316.220V345.120M484.840 322.000V345.120M491.105 327.780V345.120M497.370 333.560V345.120M503.635 339.340V345.120" stroke="#000" stroke-width="0.60" fill="none"/>
<g font-family="Liberation Sans, sans-serif" font-weight="bold" font-size="4.30" letter-spacing="0.17" fill="#000" stroke="#000" stroke-width="0.16">
<text transform="translate(17,8.59) rotate(0.05)">MH311882_PRSV[IN_MH_Pun_Pap_18]</text>
<text transform="translate(17,14.37) rotate(0.05)">HQ424465_PRSV[CN_HN1_Pap_10]</text>
<text transform="translate(17,20.15) rotate(0.05)">KF734962_PRSV[CN_Hai_Pap_11]</text>
<text transform="translate(17,25.93) rotate(0.05)">EF183499_PRSV[CN_P_Pap_06]</text>
<text transform="translate(17,31.71) rotate(0.05)">KT633943_PRSV[CN_Hai_Lin_PRSVLM_Pap_15]</text>
<text transform="translate(17,37.49) rotate(0.05)">KF791028_PRSV[CN_Hai_Haikou PRSV HNVb Pap 13]</text>
<text transform="translate(17,43.27) rotate(0.05)">KT895267_PRSV[CN_Hai_Dongfang_HNDF_Pap_2]</text>
<text transform="translate(17,49.05) rotate(0.05)">KY933061_PRSV[CN_Pap_15]</text>
<text transform="translate(17,54.83) rotate(0.05)">X97251_PRSV[TW_YK_Pap_08]</text>
<text transform="translate(17,60.61) rotate(0.05)">EU882728_PRSV[TW_P519_Pap_07]</text>
<text transform="translate(17,66.39) rotate(0.05)">DQ340769_PRSV[TW_Pingtong_Pap_06]</text>
<text transform="translate(17,72.17) rotate(0.05)">JX448373_PRSV[TW_pFT3NP_Pap_12]</text>
<text transform="translate(17,77.95) rotate(0.05)">JX448372_PRSV[TW_pfT3AXDPh_Pap_12]</text>
<text transform="translate(17,83.73) rotate(0.05)">DQ340771_PRSV[TW_Pingtong_Pap_05]</text>
<text transform="translate(17,89.51) rotate(0.05)">JX448371_PRSV[TW_prT3AXMPh_Pap_12]</text>
<text transform="translate(17,95.29) rotate(0.05)">DQ340770_PRSV[TW_Pingtong_Pap_05]</text>
<text transform="translate(17,101.07) rotate(0.05)">KJ755852_PRSV[IN_PRSVR3_Pap_13]</text>
<text transform="translate(17,106.85) rotate(0.05)">JX448369_PRSV[TW_prT3AXNA08_Pap_12]</text>
<text transform="translate(17,112.63) rotate(0.05)">JX448370_PRSV[TW_prT3AXNPh_Pap_12]</text>
<text transform="translate(17,118.41) rotate(0.05)">AY162218_PRSV[TH_Pap_02]</text>
<text transform="translate(17,124.19) rotate(0.05)">MT470189_PRSV[VN_TG_PRSVTG8_Pap_16]</text>
<text transform="translate(17,129.97) rotate(0.05)">MT470190_PRSV[TH_Sam_SMK_Pap_02]</text>
<rect x="16.2" y="131.65" width="84.5" height="5.00" fill="#ff3636"/>
<text transform="translate(17,135.75) rotate(0.05)" fill="#a00000" stroke="#a00000">OL677684_PRSV[IN_Kar_Bgk_Pap_21]</text>
<text transform="translate(17,141.53) rotate(0.05)">MF743661_PRSV[IN_TS_Hyd_HYD_Pap_16]</text>
<text transform="translate(17,147.31) rotate(0.05)">MF405295_PRSV[IN_MH_PMH_Pap_15]</text>
<text transform="translate(17,153.09) rotate(0.05)">MF405299_PRSV[IN_MH_VC_Pap_15]</text>
<text transform="translate(17,158.87) rotate(0.05)">MF405297_PRSV[IN_MH_PS3H_Pap_15]</text>
<text transform="translate(17,164.65) rotate(0.05)">MF405296_PRSV[IN_MH_PMI_Pap_15]</text>
<text transform="translate(17,170.43) rotate(0.05)">MF405298_PRSV[IN_MH_PS3H_Pap_15]</text>
<text transform="translate(17,176.21) rotate(0.05)">EF017707_PRSV[IN_ND_DEL_Pap_06]</text>
<text transform="translate(17,181.99) rotate(0.05)">MH404261_PRSV[PNG_16A_Pap_16]</text>
<text transform="translate(17,187.77) rotate(0.05)">MH404260_PRSV[PNG_12B_Pap_16]</text>
<text transform="translate(17,193.55) rotate(0.05)">MH404264_PRSV[PNG_22A_Pap_16]</text>
<text transform="translate(17,199.33) rotate(0.05)">MH404262_PRSV[PNG_17B_Pap_16]</text>
<text transform="translate(17,205.11) rotate(0.05)">MH404259_PRSV[PNG_5A_Pap_16]</text>
<text transform="translate(17,210.89) rotate(0.05)">MH404263_PRSV[PNG_16B_Pap_16]</text>
<text transform="translate(17,216.67) rotate(0.05)">X67673_PRSV[TW_TXG_Pap_08]</text>
<text transform="translate(17,222.45) rotate(0.05)">S46722_PRSV[US_HI_HA_Pap_93]</text>
<text transform="translate(17,228.23) rotate(0.05)">NC_001785_PRSV[TW_TXG_Pap_16]</text>
<text transform="translate(17,234.01) rotate(0.05)">MT470188_PRSV[US_HI_P_mutantHA51_Pap_84]</text>
<text transform="translate(17,239.79) rotate(0.05)">EU126128_PRSV[US_HI_PG_Pap_07]</text>
<text transform="translate(17,245.57) rotate(0.05)">AY231130_PRSV[MX_Ver_PGO_MexVrPO_Pap_13]</text>
<text transform="translate(17,251.35) rotate(0.05)">KY271954_PRSV[US_PRSVPTX_Pap_14]</text>
<text transform="translate(17,257.13) rotate(0.05)">MN203187_PRSV[MX_PRSV.CDPS_Pap_14]</text>
<text transform="translate(17,262.91) rotate(0.05)">MN203186_PRSV[MX_PRSV.CDVA_Pap_14]</text>
<text transform="translate(17,268.69) rotate(0.05)">MN203185_PRSV[MX_PRSV.PCPS_Pap_14]</text>
<text transform="translate(17,274.47) rotate(0.05)">MN203184_PRSV[MX_PRSV.PCOS_Pap_14]</text>
<text transform="translate(17,280.25) rotate(0.05)">MN203183_PRSV[MX_PRSV.PCVA_Pap_14]</text>
<text transform="translate(17,286.03) rotate(0.05)">KT275837_PRSV[CO_VDR_PRSV_VR_Pap_14]</text>
<text transform="translate(17,291.81) rotate(0.05)">KT275838_PRSV[CO_CH_PRSV_CH_Pap_14]</text>
<text transform="translate(17,297.59) rotate(0.05)">MH974109_PRSV[EC_BabEc_Pap_17]</text>
<text transform="translate(17,303.37) rotate(0.05)">MH974110_PRSV[EC_PRSV_Pap_Ec_Pap_18]</text>
<text transform="translate(17,309.15) rotate(0.05)">MT747167_PRSV[EC_Mild_Los_Rios_Pap_18]</text>
<text transform="translate(17,314.93) rotate(0.05)">MF356497_PRSV[IN_Meg_Umi_Pap_15]</text>
<text transform="translate(17,320.71) rotate(0.05)">LC482263_PRSV[IN_WB_Pap_17]</text>
<text transform="translate(17,326.49) rotate(0.05)">MH397222_PRSV[BD_BD2_Pap_16]</text>
<text transform="translate(17,332.27) rotate(0.05)">MT090406_PRSV[PK_PK_Pap_13]</text>
<text transform="translate(17,338.05) rotate(0.05)">MW030522_PRSV[IN_HP_Pal_Pap_18]</text>
<text transform="translate(17,343.83) rotate(0.05)">MH444652_PRSV[BD_BD1_Pap_16]</text>
<text transform="translate(138.73,468.00) rotate(-89.95) scale(1.050,1)">MH311882_PRSV[IN_MH_Pun_Pap_18]</text>
<text transform="translate(145.00,468.00) rotate(-89.95) scale(1.050,1)">HQ424465_PRSV[CN_HN1_Pap_10]</text>
<text transform="translate(151.26,468.00) rotate(-89.95) scale(1.050,1)">KF734962_PRSV[CN_Hai_Pap_11]</text>
<text transform="translate(157.53,468.00) rotate(-89.95) scale(1.050,1)">EF183499_PRSV[CN_P_Pap_06]</text>
<text transform="translate(163.79,468.00) rotate(-89.95) scale(1.050,1)">KT633943_PRSV[CN_Hai_Lin_PRSVLM_Pap_15]</text>
<text transform="translate(170.06,468.00) rotate(-89.95) scale(1.050,1)">KF791028_PRSV[CN_Hai_Haikou PRSV HNVb Pap 13]</text>
<text transform="translate(176.32,468.00) rotate(-89.95) scale(1.050,1)">KT895267_PRSV[CN_Hai_Dongfang_HNDF_Pap_2]</text>
<text transform="translate(182.59,468.00) rotate(-89.95) scale(1.050,1)">KY933061_PRSV[CN_Pap_15]</text>
<text transform="translate(188.85,468.00) rotate(-89.95) scale(1.050,1)">X97251_PRSV[TW_YK_Pap_08]</text>
<text transform="translate(195.12,468.00) rotate(-89.95) scale(1.050,1)">EU882728_PRSV[TW_P519_Pap_07]</text>
<text transform="translate(201.38,468.00) rotate(-89.95) scale(1.050,1)">DQ340769_PRSV[TW_Pingtong_Pap_06]</text>
<text transform="translate(207.65,468.00) rotate(-89.95) scale(1.050,1)">JX448373_PRSV[TW_pFT3NP_Pap_12]</text>
<text transform="translate(213.91,468.00) rotate(-89.95) scale(1.050,1)">JX448372_PRSV[TW_pfT3AXDPh_Pap_12]</text>
<text transform="translate(220.18,468.00) rotate(-89.95) scale(1.050,1)">DQ340771_PRSV[TW_Pingtong_Pap_05]</text>
<text transform="translate(226.44,468.00) rotate(-89.95) scale(1.050,1)">JX448371_PRSV[TW_prT3AXMPh_Pap_12]</text>
<text transform="translate(232.71,468.00) rotate(-89.95) scale(1.050,1)">DQ340770_PRSV[TW_Pingtong_Pap_05]</text>
<text transform="translate(238.97,468.00) rotate(-89.95) scale(1.050,1)">KJ755852_PRSV[IN_PRSVR3_Pap_13]</text>
<text transform="translate(245.24,468.00) rotate(-89.95) scale(1.050,1)">JX448369_PRSV[TW_prT3AXNA08_Pap_12]</text>
<text transform="translate(251.50,468.00) rotate(-89.95) scale(1.050,1)">JX448370_PRSV[TW_prT3AXNPh_Pap_12]</text>
<text transform="translate(257.77,468.00) rotate(-89.95) scale(1.050,1)">AY162218_PRSV[TH_Pap_02]</text>
<text transform="translate(264.03,468.00) rotate(-89.95) scale(1.050,1)">MT470189_PRSV[VN_TG_PRSVTG8_Pap_16]</text>
<text transform="translate(270.30,468.00) rotate(-89.95) scale(1.050,1)">MT470190_PRSV[TH_Sam_SMK_Pap_02]</text>
<g transform="translate(276.56,468.00) rotate(-89.95) scale(1.050,1)"><rect x="-0.6" y="-4.1" width="41.90" height="5.0" fill="#ff3636"/><text x="0" y="0" fill="#c00000" stroke="#c00000">OL677684_PRSV[IN_Kar_Bgk_Pap_21]</text></g>
<text transform="translate(282.83,468.00) rotate(-89.95) scale(1.050,1)">MF743661_PRSV[IN_TS_Hyd_HYD_Pap_16]</text>
<text transform="translate(289.09,468.00) rotate(-89.95) scale(1.050,1)">MF405295_PRSV[IN_MH_PMH_Pap_15]</text>
<text transform="translate(295.36,468.00) rotate(-89.95) scale(1.050,1)">MF405299_PRSV[IN_MH_VC_Pap_15]</text>
<text transform="translate(301.62,468.00) rotate(-89.95) scale(1.050,1)">MF405297_PRSV[IN_MH_PS3H_Pap_15]</text>
<text transform="translate(307.89,468.00) rotate(-89.95) scale(1.050,1)">MF405296_PRSV[IN_MH_PMI_Pap_15]</text>
<text transform="translate(314.15,468.00) rotate(-89.95) scale(1.050,1)">MF405298_PRSV[IN_MH_PS3H_Pap_15]</text>
<text transform="translate(320.42,468.00) rotate(-89.95) scale(1.050,1)">EF017707_PRSV[IN_ND_DEL_Pap_06]</text>
<text transform="translate(326.68,468.00) rotate(-89.95) scale(1.050,1)">MH404261_PRSV[PNG_16A_Pap_16]</text>
<text transform="translate(332.95,468.00) rotate(-89.95) scale(1.050,1)">MH404260_PRSV[PNG_12B_Pap_16]</text>
<text transform="translate(339.21,468.00) rotate(-89.95) scale(1.050,1)">MH404264_PRSV[PNG_22A_Pap_16]</text>
<text transform="translate(345.48,468.00) rotate(-89.95) scale(1.050,1)">MH404262_PRSV[PNG_17B_Pap_16]</text>
<text transform="translate(351.74,468.00) rotate(-89.95) scale(1.050,1)">MH404259_PRSV[PNG_5A_Pap_16]</text>
<text transform="translate(358.01,468.00) rotate(-89.95) scale(1.050,1)">MH404263_PRSV[PNG_16B_Pap_16]</text>
<text transform="translate(364.27,468.00) rotate(-89.95) scale(1.050,1)">X67673_PRSV[TW_TXG_Pap_08]</text>
<text transform="translate(370.54,468.00) rotate(-89.95) scale(1.050,1)">S46722_PRSV[US_HI_HA_Pap_93]</text>
<text transform="translate(376.80,468.00) rotate(-89.95) scale(1.050,1)">NC_001785_PRSV[TW_TXG_Pap_16]</text>
<text transform="translate(383.07,468.00) rotate(-89.95) scale(1.050,1)">MT470188_PRSV[US_HI_P_mutantHA51_Pap_84]</text>
<text transform="translate(389.33,468.00) rotate(-89.95) scale(1.050,1)">EU126128_PRSV[US_HI_PG_Pap_07]</text>
<text transform="translate(395.60,468.00) rotate(-89.95) scale(1.050,1)">AY231130_PRSV[MX_Ver_PGO_MexVrPO_Pap_13]</text>
<text transform="translate(401.86,468.00) rotate(-89.95) scale(1.050,1)">KY271954_PRSV[US_PRSVPTX_Pap_14]</text>
<text transform="translate(408.13,468.00) rotate(-89.95) scale(1.050,1)">MN203187_PRSV[MX_PRSV.CDPS_Pap_14]</text>
<text transform="translate(414.39,468.00) rotate(-89.95) scale(1.050,1)">MN203186_PRSV[MX_PRSV.CDVA_Pap_14]</text>
<text transform="translate(420.66,468.00) rotate(-89.95) scale(1.050,1)">MN203185_PRSV[MX_PRSV.PCPS_Pap_14]</text>
<text transform="translate(426.92,468.00) rotate(-89.95) scale(1.050,1)">MN203184_PRSV[MX_PRSV.PCOS_Pap_14]</text>
<text transform="translate(433.19,468.00) rotate(-89.95) scale(1.050,1)">MN203183_PRSV[MX_PRSV.PCVA_Pap_14]</text>
<text transform="translate(439.45,468.00) rotate(-89.95) scale(1.050,1)">KT275837_PRSV[CO_VDR_PRSV_VR_Pap_14]</text>
<text transform="translate(445.72,468.00) rotate(-89.95) scale(1.050,1)">KT275838_PRSV[CO_CH_PRSV_CH_Pap_14]</text>
<text transform="translate(451.98,468.00) rotate(-89.95) scale(1.050,1)">MH974109_PRSV[EC_BabEc_Pap_17]</text>
<text transform="translate(458.25,468.00) rotate(-89.95) scale(1.050,1)">MH974110_PRSV[EC_PRSV_Pap_Ec_Pap_18]</text>
<text transform="translate(464.51,468.00) rotate(-89.95) scale(1.050,1)">MT747167_PRSV[EC_Mild_Los_Rios_Pap_18]</text>
<text transform="translate(470.78,468.00) rotate(-89.95) scale(1.050,1)">MF356497_PRSV[IN_Meg_Umi_Pap_15]</text>
<text transform="translate(477.04,468.00) rotate(-89.95) scale(1.050,1)">LC482263_PRSV[IN_WB_Pap_17]</text>
<text transform="translate(483.31,468.00) rotate(-89.95) scale(1.050,1)">MH397222_PRSV[BD_BD2_Pap_16]</text>
<text transform="translate(489.57,468.00) rotate(-89.95) scale(1.050,1)">MT090406_PRSV[PK_PK_Pap_13]</text>
<text transform="translate(495.84,468.00) rotate(-89.95) scale(1.050,1)">MW030522_PRSV[IN_HP_Pal_Pap_18]</text>
<text transform="translate(502.10,468.00) rotate(-89.95) scale(1.050,1)">MH444652_PRSV[BD_BD1_Pap_16]</text>
</g>
<rect x="512" y="176.00" width="10.3" height="94.60" fill="#000"/>
<rect x="512.4" y="176.40" width="9.5" height="3.50" fill="#3a0000"/>
<rect x="512.4" y="180.70" width="9.5" height="3.50" fill="#900000"/>
<rect x="512.4" y="185.00" width="9.5" height="3.50" fill="#d00000"/>
<rect x="512.4" y="189.30" width="9.5" height="3.50" fill="#ff0000"/>
<rect x="512.4" y="193.60" width="9.5" height="3.50" fill="#ff1000"/>
<rect x="512.4" y="197.90" width="9.5" height="3.50" fill="#ff4000"/>
<rect x="512.4" y="202.20" width="9.5" height="3.50" fill="#ff8000"/>
<rect x="512.4" y="206.50" width="9.5" height="3.50" fill="#ffc800"/>
<rect x="512.4" y="210.80" width="9.5" height="3.50" fill="#ffff00"/>
<rect x="512.4" y="215.10" width="9.5" height="3.50" fill="#e8f800"/>
<rect x="512.4" y="219.40" width="9.5" height="3.50" fill="#f0f000"/>
<rect x="512.4" y="223.70" width="9.5" height="3.50" fill="#c8f000"/>
<rect x="512.4" y="228.00" width="9.5" height="3.50" fill="#80f000"/>
<rect x="512.4" y="232.30" width="9.5" height="3.50" fill="#00e020"/>
<rect x="512.4" y="236.60" width="9.5" height="3.50" fill="#00f060"/>
<rect x="512.4" y="240.90" width="9.5" height="3.50" fill="#00f0a0"/>
<rect x="512.4" y="245.20" width="9.5" height="3.50" fill="#00f0c0"/>
<rect x="512.4" y="249.50" width="9.5" height="3.50" fill="#00f0e0"/>
<rect x="512.4" y="253.80" width="9.5" height="3.50" fill="#00f0f0"/>
<rect x="512.4" y="258.10" width="9.5" height="3.50" fill="#00e8ff"/>
<rect x="512.4" y="262.40" width="9.5" height="3.50" fill="#00e0ff"/>
<rect x="512.4" y="266.70" width="9.5" height="3.50" fill="#20c0f0"/>
<g font-family="Liberation Sans, sans-serif" font-weight="bold" font-size="4.55" fill="#000" stroke="#000" stroke-width="0.16">
<line x1="523.2" y1="178.60" x2="526.6" y2="178.60" stroke="#b0a0a8" stroke-width="0.5"/>
<text transform="translate(528.5,180.20) rotate(0.05)">100</text>
<line x1="523.2" y1="187.24" x2="526.6" y2="187.24" stroke="#b0a0a8" stroke-width="0.5"/>
<text transform="translate(528.5,188.84) rotate(0.05)">98</text>
<line x1="523.2" y1="195.88" x2="526.6" y2="195.88" stroke="#b0a0a8" stroke-width="0.5"/>
<text transform="translate(528.5,197.48) rotate(0.05)">97</text>
<line x1="523.2" y1="204.52" x2="526.6" y2="204.52" stroke="#b0a0a8" stroke-width="0.5"/>
<text transform="translate(528.5,206.12) rotate(0.05)">95</text>
<line x1="523.2" y1="213.16" x2="526.6" y2="213.16" stroke="#b0a0a8" stroke-width="0.5"/>
<text transform="translate(528.5,214.76) rotate(0.05)">93</text>
<line x1="523.2" y1="221.80" x2="526.6" y2="221.80" stroke="#b0a0a8" stroke-width="0.5"/>
<text transform="translate(528.5,223.40) rotate(0.05)">91</text>
<line x1="523.2" y1="230.44" x2="526.6" y2="230.44" stroke="#b0a0a8" stroke-width="0.5"/>
<text transform="translate(528.5,232.04) rotate(0.05)">90</text>
<line x1="523.2" y1="239.08" x2="526.6" y2="239.08" stroke="#b0a0a8" stroke-width="0.5"/>
<text transform="translate(528.5,240.68) rotate(0.05)">88</text>
<line x1="523.2" y1="247.72" x2="526.6" y2="247.72" stroke="#b0a0a8" stroke-width="0.5"/>
<text transform="translate(528.5,249.32) rotate(0.05)">86</text>
<line x1="523.2" y1="256.36" x2="526.6" y2="256.36" stroke="#b0a0a8" stroke-width="0.5"/>
<text transform="translate(528.5,257.96) rotate(0.05)">85</text>
<line x1="523.2" y1="265.00" x2="526.6" y2="265.00" stroke="#b0a0a8" stroke-width="0.5"/>
<text transform="translate(528.5,266.60) rotate(0.05)">83</text>
<text transform="translate(504,174.4) rotate(0.05)">Pairwise identity (%)</text>
</g>
<text transform="translate(3.5,12.4) rotate(0.05)" font-family="Liberation Serif, serif" font-weight="bold" font-size="10.6">b</text>
</svg>
</body></html>
